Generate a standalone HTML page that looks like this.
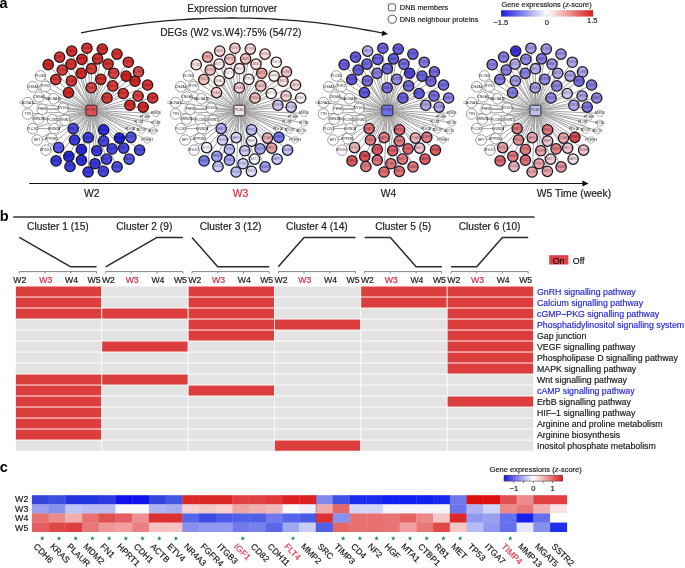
<!DOCTYPE html>
<html><head><meta charset="utf-8"><title>Figure</title>
<style>
html,body{margin:0;padding:0;background:#fff;}
body{width:685px;height:568px;overflow:hidden;}
svg{display:block;font-family:"Liberation Sans", Arial, Helvetica, sans-serif;}
</style></head><body>
<svg width="685" height="568" viewBox="0 0 685 568">

<g id="nets">
<path d="M91.4 110.5L86.9 48.2M91.4 110.5L102.3 49.1M91.4 110.5L71.7 51.1M91.4 110.5L117.0 54.1M91.4 110.5L59.6 57.1M91.4 110.5L81.8 59.3M91.4 110.5L97.6 58.8M91.4 110.5L48.2 64.7M91.4 110.5L71.0 64.1M91.4 110.5L108.0 64.2M91.4 110.5L128.3 62.2M91.4 110.5L62.2 70.0M91.4 110.5L91.5 68.7M91.4 110.5L81.2 73.3M91.4 110.5L113.7 73.2M91.4 110.5L138.5 71.9M91.4 110.5L126.1 76.1M91.4 110.5L55.8 79.5M91.4 110.5L71.4 80.8M91.4 110.5L100.8 79.3M91.4 110.5L135.0 81.2M91.4 110.5L147.6 85.0M91.4 110.5L91.3 87.7M91.4 110.5L112.8 85.9M91.4 110.5L68.5 92.6M91.4 110.5L123.2 93.5M91.4 110.5L138.1 96.0M91.4 110.5L152.7 98.0M91.4 110.5L107.0 98.0M91.4 110.5L129.9 105.2M91.4 110.5L143.2 107.1M91.4 110.5L73.2 128.6M91.4 110.5L103.6 129.8M91.4 110.5L88.2 137.6M91.4 110.5L74.5 140.0M91.4 110.5L103.6 141.1M91.4 110.5L119.5 138.1M91.4 110.5L130.9 137.3M91.4 110.5L58.6 147.6M91.4 110.5L81.4 149.5M91.4 110.5L96.8 150.7M91.4 110.5L112.1 148.9M91.4 110.5L123.7 148.1M91.4 110.5L139.6 150.1M91.4 110.5L68.8 156.4M91.4 110.5L81.4 160.2M91.4 110.5L56.1 160.9M91.4 110.5L95.0 163.7M91.4 110.5L106.6 159.1M91.4 110.5L129.1 159.1M91.4 110.5L117.1 166.9M91.4 110.5L70.0 166.5M91.4 110.5L88.1 172.0M91.4 110.5L103.4 171.3M91.4 110.5L40.4 75.9M91.4 110.5L32.8 86.8M91.4 110.5L45.3 86.5M91.4 110.5L39.0 97.0M91.4 110.5L53.6 98.8M91.4 110.5L27.5 102.6M91.4 110.5L42.2 109.2M91.4 110.5L63.2 108.3M91.4 110.5L27.6 114.0M91.4 110.5L38.4 119.1M91.4 110.5L52.3 119.7M91.4 110.5L65.0 120.3M91.4 110.5L32.7 128.6M91.4 110.5L54.2 128.6M91.4 110.5L37.1 140.0M91.4 110.5L51.7 138.7M91.4 110.5L46.0 150.1M91.4 110.5L155.8 113.4M91.4 110.5L145.0 117.0M91.4 110.5L155.8 123.1M91.4 110.5L139.0 122.0M91.4 110.5L130.2 128.7M91.4 110.5L141.5 130.2M91.4 110.5L153.2 130.8M91.4 110.5L147.1 140.0M42.2 109.2L63.2 108.3M52.3 119.7L65.0 120.3M52.3 119.7L38.4 119.1M53.6 98.8L39.0 97.0M32.8 86.8L45.3 86.5M54.2 128.6L32.7 128.6M51.7 138.7L37.1 140.0M46.0 150.1L51.7 138.7M63.2 108.3L65.0 120.3" stroke="#999" stroke-width="0.9" fill="none"/>
<circle cx="40.4" cy="75.9" r="5.3" fill="#fff" stroke="#808080" stroke-width="0.75"/>
<text x="40.4" y="76.8" font-size="3.3" text-anchor="middle" fill="#222">PLCB4</text>
<circle cx="32.8" cy="86.8" r="5.3" fill="#fff" stroke="#808080" stroke-width="0.75"/>
<text x="32.8" y="87.7" font-size="3.3" text-anchor="middle" fill="#222">CNGA1</text>
<circle cx="45.3" cy="86.5" r="5.3" fill="#fff" stroke="#808080" stroke-width="0.75"/>
<text x="45.3" y="87.4" font-size="3.3" text-anchor="middle" fill="#222">RYR2</text>
<circle cx="39.0" cy="97.0" r="5.3" fill="#fff" stroke="#808080" stroke-width="0.75"/>
<text x="39.0" y="97.9" font-size="3.3" text-anchor="middle" fill="#222">CNGA3</text>
<circle cx="53.6" cy="98.8" r="5.3" fill="#fff" stroke="#808080" stroke-width="0.75"/>
<text x="53.6" y="99.7" font-size="3.3" text-anchor="middle" fill="#222">CACNA1D</text>
<circle cx="27.5" cy="102.6" r="5.3" fill="#fff" stroke="#808080" stroke-width="0.75"/>
<text x="27.5" y="103.5" font-size="3.3" text-anchor="middle" fill="#222">CACNA1C</text>
<circle cx="42.2" cy="109.2" r="5.3" fill="#fff" stroke="#808080" stroke-width="0.75"/>
<text x="42.2" y="110.1" font-size="3.3" text-anchor="middle" fill="#222">PHKB</text>
<circle cx="63.2" cy="108.3" r="5.3" fill="#fff" stroke="#808080" stroke-width="0.75"/>
<text x="63.2" y="109.2" font-size="3.3" text-anchor="middle" fill="#222">MYLK4</text>
<circle cx="27.6" cy="114.0" r="5.3" fill="#fff" stroke="#808080" stroke-width="0.75"/>
<text x="27.6" y="114.9" font-size="3.3" text-anchor="middle" fill="#222">TTN</text>
<circle cx="38.4" cy="119.1" r="5.3" fill="#fff" stroke="#808080" stroke-width="0.75"/>
<text x="38.4" y="120.0" font-size="3.3" text-anchor="middle" fill="#222">GRIN2B</text>
<circle cx="52.3" cy="119.7" r="5.3" fill="#fff" stroke="#808080" stroke-width="0.75"/>
<text x="52.3" y="120.6" font-size="3.3" text-anchor="middle" fill="#222">PLCB1</text>
<circle cx="65.0" cy="120.3" r="5.3" fill="#fff" stroke="#808080" stroke-width="0.75"/>
<text x="65.0" y="121.2" font-size="3.3" text-anchor="middle" fill="#222">GRIN1</text>
<circle cx="32.7" cy="128.6" r="5.3" fill="#fff" stroke="#808080" stroke-width="0.75"/>
<text x="32.7" y="129.5" font-size="3.3" text-anchor="middle" fill="#222">PLCG2</text>
<circle cx="54.2" cy="128.6" r="5.3" fill="#fff" stroke="#808080" stroke-width="0.75"/>
<text x="54.2" y="129.5" font-size="3.3" text-anchor="middle" fill="#222">GRIN2A</text>
<circle cx="37.1" cy="140.0" r="5.3" fill="#fff" stroke="#808080" stroke-width="0.75"/>
<text x="37.1" y="140.9" font-size="3.3" text-anchor="middle" fill="#222">NFT</text>
<circle cx="51.7" cy="138.7" r="5.3" fill="#fff" stroke="#808080" stroke-width="0.75"/>
<text x="51.7" y="139.6" font-size="3.3" text-anchor="middle" fill="#222">PPP3R1</text>
<circle cx="46.0" cy="150.1" r="5.3" fill="#fff" stroke="#808080" stroke-width="0.75"/>
<text x="46.0" y="151.0" font-size="3.3" text-anchor="middle" fill="#222">MYLK2</text>
<circle cx="155.8" cy="113.4" r="3.2" fill="#fff" stroke="#808080" stroke-width="0.6"/>
<text x="155.8" y="114.2" font-size="3.0" text-anchor="middle" fill="#333">PDE1B</text>
<circle cx="145.0" cy="117.0" r="3.2" fill="#fff" stroke="#808080" stroke-width="0.6"/>
<text x="145.0" y="117.8" font-size="3.0" text-anchor="middle" fill="#333">PTGER</text>
<circle cx="155.8" cy="123.1" r="3.2" fill="#fff" stroke="#808080" stroke-width="0.6"/>
<text x="155.8" y="123.9" font-size="3.0" text-anchor="middle" fill="#333">PLCB3</text>
<circle cx="139.0" cy="122.0" r="3.2" fill="#fff" stroke="#808080" stroke-width="0.6"/>
<text x="139.0" y="122.8" font-size="3.0" text-anchor="middle" fill="#333">PLCE1</text>
<circle cx="130.2" cy="128.7" r="3.2" fill="#fff" stroke="#808080" stroke-width="0.6"/>
<text x="130.2" y="129.5" font-size="3.0" text-anchor="middle" fill="#333">PDE1A</text>
<circle cx="141.5" cy="130.2" r="3.2" fill="#fff" stroke="#808080" stroke-width="0.6"/>
<text x="141.5" y="131.0" font-size="3.0" text-anchor="middle" fill="#333">ADCY3</text>
<circle cx="153.2" cy="130.8" r="3.2" fill="#fff" stroke="#808080" stroke-width="0.6"/>
<text x="153.2" y="131.6" font-size="3.0" text-anchor="middle" fill="#333">ADCY9</text>
<circle cx="147.1" cy="140.0" r="3.2" fill="#fff" stroke="#808080" stroke-width="0.6"/>
<text x="147.1" y="140.8" font-size="3.0" text-anchor="middle" fill="#333">PTGER3</text>
<circle cx="86.9" cy="48.2" r="5.2" fill="#d83939" stroke="#2a1818" stroke-width="1.25"/>
<text x="86.9" y="49.1" font-size="3.0" text-anchor="middle" fill="#3a0a0a" fill-opacity="0.55">NOS3</text>
<circle cx="102.3" cy="49.1" r="5.2" fill="#d32f2f" stroke="#2a1818" stroke-width="1.25"/>
<text x="102.3" y="50.0" font-size="3.0" text-anchor="middle" fill="#3a0a0a" fill-opacity="0.55">PTGS</text>
<circle cx="71.7" cy="51.1" r="5.2" fill="#d32f2f" stroke="#2a1818" stroke-width="1.25"/>
<text x="71.7" y="52.0" font-size="3.0" text-anchor="middle" fill="#3a0a0a" fill-opacity="0.55">NBO1</text>
<circle cx="117.0" cy="54.1" r="5.2" fill="#d83333" stroke="#2a1818" stroke-width="1.25"/>
<text x="117.0" y="55.0" font-size="3.0" text-anchor="middle" fill="#3a0a0a" fill-opacity="0.55">NOS2</text>
<circle cx="59.6" cy="57.1" r="5.2" fill="#d83636" stroke="#2a1818" stroke-width="1.25"/>
<text x="59.6" y="58.0" font-size="3.0" text-anchor="middle" fill="#3a0a0a" fill-opacity="0.55">PDE1C</text>
<circle cx="81.8" cy="59.3" r="5.2" fill="#d32828" stroke="#2a1818" stroke-width="1.25"/>
<text x="81.8" y="60.2" font-size="3.0" text-anchor="middle" fill="#3a0a0a" fill-opacity="0.55">PPP3C</text>
<circle cx="97.6" cy="58.8" r="5.2" fill="#d73131" stroke="#2a1818" stroke-width="1.25"/>
<text x="97.6" y="59.7" font-size="3.0" text-anchor="middle" fill="#3a0a0a" fill-opacity="0.55">CAMK2</text>
<circle cx="48.2" cy="64.7" r="5.2" fill="#d32828" stroke="#2a1818" stroke-width="1.25"/>
<text x="48.2" y="65.6" font-size="3.0" text-anchor="middle" fill="#3a0a0a" fill-opacity="0.55">PLCB2</text>
<circle cx="71.0" cy="64.1" r="5.2" fill="#d73333" stroke="#2a1818" stroke-width="1.25"/>
<text x="71.0" y="65.0" font-size="3.0" text-anchor="middle" fill="#3a0a0a" fill-opacity="0.55">ADCY1</text>
<circle cx="108.0" cy="64.2" r="5.2" fill="#d33636" stroke="#2a1818" stroke-width="1.25"/>
<text x="108.0" y="65.1" font-size="3.0" text-anchor="middle" fill="#3a0a0a" fill-opacity="0.55">CAMK4</text>
<circle cx="128.3" cy="62.2" r="5.2" fill="#d83939" stroke="#2a1818" stroke-width="1.25"/>
<text x="128.3" y="63.1" font-size="3.0" text-anchor="middle" fill="#3a0a0a" fill-opacity="0.55">PDE1A</text>
<circle cx="62.2" cy="70.0" r="5.2" fill="#d83e3e" stroke="#2a1818" stroke-width="1.25"/>
<text x="62.2" y="70.9" font-size="3.0" text-anchor="middle" fill="#3a0a0a" fill-opacity="0.55">NOS1</text>
<circle cx="91.5" cy="68.7" r="5.2" fill="#d83d3d" stroke="#2a1818" stroke-width="1.25"/>
<text x="91.5" y="69.6" font-size="3.0" text-anchor="middle" fill="#3a0a0a" fill-opacity="0.55">PRKCA</text>
<circle cx="81.2" cy="73.3" r="5.2" fill="#d32828" stroke="#2a1818" stroke-width="1.25"/>
<text x="81.2" y="74.2" font-size="3.0" text-anchor="middle" fill="#3a0a0a" fill-opacity="0.55">ADCY8</text>
<circle cx="113.7" cy="73.2" r="5.2" fill="#db4444" stroke="#2a1818" stroke-width="1.25"/>
<text x="113.7" y="74.1" font-size="3.0" text-anchor="middle" fill="#3a0a0a" fill-opacity="0.55">ADCY</text>
<circle cx="138.5" cy="71.9" r="5.2" fill="#db5151" stroke="#2a1818" stroke-width="1.25"/>
<text x="138.5" y="72.8" font-size="3.0" text-anchor="middle" fill="#3a0a0a" fill-opacity="0.55">ADRB1</text>
<circle cx="126.1" cy="76.1" r="5.2" fill="#cf2222" stroke="#2a1818" stroke-width="1.25"/>
<text x="126.1" y="77.0" font-size="3.0" text-anchor="middle" fill="#3a0a0a" fill-opacity="0.55">ITPR1</text>
<circle cx="55.8" cy="79.5" r="5.2" fill="#d83939" stroke="#2a1818" stroke-width="1.25"/>
<text x="55.8" y="80.4" font-size="3.0" text-anchor="middle" fill="#3a0a0a" fill-opacity="0.55">PDE2A</text>
<circle cx="71.4" cy="80.8" r="5.2" fill="#d83939" stroke="#2a1818" stroke-width="1.25"/>
<text x="71.4" y="81.7" font-size="3.0" text-anchor="middle" fill="#3a0a0a" fill-opacity="0.55">GNAQ</text>
<circle cx="100.8" cy="79.3" r="5.2" fill="#d32f2f" stroke="#2a1818" stroke-width="1.25"/>
<text x="100.8" y="80.2" font-size="3.0" text-anchor="middle" fill="#3a0a0a" fill-opacity="0.55">ATP2B</text>
<circle cx="135.0" cy="81.2" r="5.2" fill="#cf2828" stroke="#2a1818" stroke-width="1.25"/>
<text x="135.0" y="82.1" font-size="3.0" text-anchor="middle" fill="#3a0a0a" fill-opacity="0.55">PRKCB</text>
<circle cx="147.6" cy="85.0" r="5.2" fill="#d73333" stroke="#2a1818" stroke-width="1.25"/>
<text x="147.6" y="85.9" font-size="3.0" text-anchor="middle" fill="#3a0a0a" fill-opacity="0.55">CALM1</text>
<circle cx="91.3" cy="87.7" r="5.2" fill="#db4a4a" stroke="#2a1818" stroke-width="1.25"/>
<text x="91.3" y="88.6" font-size="3.0" text-anchor="middle" fill="#3a0a0a" fill-opacity="0.55">GNAS</text>
<circle cx="112.8" cy="85.9" r="5.2" fill="#db3d3d" stroke="#2a1818" stroke-width="1.25"/>
<text x="112.8" y="86.8" font-size="3.0" text-anchor="middle" fill="#3a0a0a" fill-opacity="0.55">CALML</text>
<circle cx="68.5" cy="92.6" r="5.2" fill="#d32828" stroke="#2a1818" stroke-width="1.25"/>
<text x="68.5" y="93.5" font-size="3.0" text-anchor="middle" fill="#3a0a0a" fill-opacity="0.55">PDE4D</text>
<circle cx="123.2" cy="93.5" r="5.2" fill="#d73636" stroke="#2a1818" stroke-width="1.25"/>
<text x="123.2" y="94.4" font-size="3.0" text-anchor="middle" fill="#3a0a0a" fill-opacity="0.55">ADCY5</text>
<circle cx="138.1" cy="96.0" r="5.2" fill="#db4444" stroke="#2a1818" stroke-width="1.25"/>
<text x="138.1" y="96.9" font-size="3.0" text-anchor="middle" fill="#3a0a0a" fill-opacity="0.55">CHRM3</text>
<circle cx="152.7" cy="98.0" r="5.2" fill="#d73636" stroke="#2a1818" stroke-width="1.25"/>
<text x="152.7" y="98.9" font-size="3.0" text-anchor="middle" fill="#3a0a0a" fill-opacity="0.55">NFATC</text>
<circle cx="107.0" cy="98.0" r="5.2" fill="#d73939" stroke="#2a1818" stroke-width="1.25"/>
<text x="107.0" y="98.9" font-size="3.0" text-anchor="middle" fill="#3a0a0a" fill-opacity="0.55">PRKG1</text>
<circle cx="129.9" cy="105.2" r="5.2" fill="#d32f2f" stroke="#2a1818" stroke-width="1.25"/>
<text x="129.9" y="106.1" font-size="3.0" text-anchor="middle" fill="#3a0a0a" fill-opacity="0.55">PDE3A</text>
<circle cx="143.2" cy="107.1" r="5.2" fill="#d32828" stroke="#2a1818" stroke-width="1.25"/>
<text x="143.2" y="108.0" font-size="3.0" text-anchor="middle" fill="#3a0a0a" fill-opacity="0.55">SLC8A</text>
<circle cx="73.2" cy="128.6" r="5.2" fill="#4a4ae4" stroke="#18182a" stroke-width="1.25"/>
<text x="73.2" y="129.5" font-size="3.0" text-anchor="middle" fill="#0a0a3a" fill-opacity="0.55">NFATC</text>
<circle cx="103.6" cy="129.8" r="5.2" fill="#3030e0" stroke="#18182a" stroke-width="1.25"/>
<text x="103.6" y="130.7" font-size="3.0" text-anchor="middle" fill="#0a0a3a" fill-opacity="0.55">PPP1CA</text>
<circle cx="88.2" cy="137.6" r="5.2" fill="#4040e0" stroke="#18182a" stroke-width="1.25"/>
<text x="88.2" y="138.5" font-size="3.0" text-anchor="middle" fill="#0a0a3a" fill-opacity="0.55">MAPK1</text>
<circle cx="74.5" cy="140.0" r="5.2" fill="#3a3ae0" stroke="#18182a" stroke-width="1.25"/>
<text x="74.5" y="140.9" font-size="3.0" text-anchor="middle" fill="#0a0a3a" fill-opacity="0.55">PIK3CA</text>
<circle cx="103.6" cy="141.1" r="5.2" fill="#4848e4" stroke="#18182a" stroke-width="1.25"/>
<text x="103.6" y="142.0" font-size="3.0" text-anchor="middle" fill="#0a0a3a" fill-opacity="0.55">RAF1</text>
<circle cx="119.5" cy="138.1" r="5.2" fill="#2020d8" stroke="#18182a" stroke-width="1.25"/>
<text x="119.5" y="139.0" font-size="3.0" text-anchor="middle" fill="#0a0a3a" fill-opacity="0.55">ITGA5</text>
<circle cx="130.9" cy="137.3" r="5.2" fill="#5858e6" stroke="#18182a" stroke-width="1.25"/>
<text x="130.9" y="138.2" font-size="3.0" text-anchor="middle" fill="#0a0a3a" fill-opacity="0.55">EGFR</text>
<circle cx="58.6" cy="147.6" r="5.2" fill="#5a5aee" stroke="#18182a" stroke-width="1.25"/>
<text x="58.6" y="148.5" font-size="3.0" text-anchor="middle" fill="#0a0a3a" fill-opacity="0.55">MYO1C</text>
<circle cx="81.4" cy="149.5" r="5.2" fill="#2a2ad8" stroke="#18182a" stroke-width="1.25"/>
<text x="81.4" y="150.4" font-size="3.0" text-anchor="middle" fill="#0a0a3a" fill-opacity="0.55">SOS1</text>
<circle cx="96.8" cy="150.7" r="5.2" fill="#3a3ae0" stroke="#18182a" stroke-width="1.25"/>
<text x="96.8" y="151.6" font-size="3.0" text-anchor="middle" fill="#0a0a3a" fill-opacity="0.55">PDGFA</text>
<circle cx="112.1" cy="148.9" r="5.2" fill="#4444e2" stroke="#18182a" stroke-width="1.25"/>
<text x="112.1" y="149.8" font-size="3.0" text-anchor="middle" fill="#0a0a3a" fill-opacity="0.55">FGF2</text>
<circle cx="123.7" cy="148.1" r="5.2" fill="#4848e2" stroke="#18182a" stroke-width="1.25"/>
<text x="123.7" y="149.0" font-size="3.0" text-anchor="middle" fill="#0a0a3a" fill-opacity="0.55">PRKCD</text>
<circle cx="139.6" cy="150.1" r="5.2" fill="#5050e4" stroke="#18182a" stroke-width="1.25"/>
<text x="139.6" y="151.0" font-size="3.0" text-anchor="middle" fill="#0a0a3a" fill-opacity="0.55">VEGFA</text>
<circle cx="68.8" cy="156.4" r="5.2" fill="#2a2ad8" stroke="#18182a" stroke-width="1.25"/>
<text x="68.8" y="157.3" font-size="3.0" text-anchor="middle" fill="#0a0a3a" fill-opacity="0.55">HRAS</text>
<circle cx="81.4" cy="160.2" r="5.2" fill="#3030dc" stroke="#18182a" stroke-width="1.25"/>
<text x="81.4" y="161.1" font-size="3.0" text-anchor="middle" fill="#0a0a3a" fill-opacity="0.55">PIK3CB</text>
<circle cx="56.1" cy="160.9" r="5.2" fill="#3a3ae0" stroke="#18182a" stroke-width="1.25"/>
<text x="56.1" y="161.8" font-size="3.0" text-anchor="middle" fill="#0a0a3a" fill-opacity="0.55">FGFR1</text>
<circle cx="95.0" cy="163.7" r="5.2" fill="#3838e0" stroke="#18182a" stroke-width="1.25"/>
<text x="95.0" y="164.6" font-size="3.0" text-anchor="middle" fill="#0a0a3a" fill-opacity="0.55">PTK2</text>
<circle cx="106.6" cy="159.1" r="5.2" fill="#4848e2" stroke="#18182a" stroke-width="1.25"/>
<text x="106.6" y="160.0" font-size="3.0" text-anchor="middle" fill="#0a0a3a" fill-opacity="0.55">AKT1</text>
<circle cx="129.1" cy="159.1" r="5.2" fill="#5858e8" stroke="#18182a" stroke-width="1.25"/>
<text x="129.1" y="160.0" font-size="3.0" text-anchor="middle" fill="#0a0a3a" fill-opacity="0.55">MAPK3</text>
<circle cx="117.1" cy="166.9" r="5.2" fill="#5050e4" stroke="#18182a" stroke-width="1.25"/>
<text x="117.1" y="167.8" font-size="3.0" text-anchor="middle" fill="#0a0a3a" fill-opacity="0.55">NRAS</text>
<circle cx="70.0" cy="166.5" r="5.2" fill="#4040e0" stroke="#18182a" stroke-width="1.25"/>
<text x="70.0" y="167.4" font-size="3.0" text-anchor="middle" fill="#0a0a3a" fill-opacity="0.55">CDC42</text>
<circle cx="88.1" cy="172.0" r="5.2" fill="#3a3ae0" stroke="#18182a" stroke-width="1.25"/>
<text x="88.1" y="172.9" font-size="3.0" text-anchor="middle" fill="#0a0a3a" fill-opacity="0.55">PLCG1</text>
<circle cx="103.4" cy="171.3" r="5.2" fill="#4848e4" stroke="#18182a" stroke-width="1.25"/>
<text x="103.4" y="172.2" font-size="3.0" text-anchor="middle" fill="#0a0a3a" fill-opacity="0.55">SHC1</text>
<rect x="85.9" y="105.2" width="11" height="10.6" rx="1.5" fill="#e05050" stroke="#2a2a2a" stroke-width="1"/>
<text x="91.4" y="111.4" font-size="2.6" text-anchor="middle" fill="#333">PLCB4</text>
<path d="M239.4 110.5L234.9 48.2M239.4 110.5L250.3 49.1M239.4 110.5L219.7 51.1M239.4 110.5L265.0 54.1M239.4 110.5L207.6 57.1M239.4 110.5L229.8 59.3M239.4 110.5L245.6 58.8M239.4 110.5L196.2 64.7M239.4 110.5L219.0 64.1M239.4 110.5L256.0 64.2M239.4 110.5L276.3 62.2M239.4 110.5L210.2 70.0M239.4 110.5L239.5 68.7M239.4 110.5L229.2 73.3M239.4 110.5L261.7 73.2M239.4 110.5L286.5 71.9M239.4 110.5L274.1 76.1M239.4 110.5L203.8 79.5M239.4 110.5L219.4 80.8M239.4 110.5L248.8 79.3M239.4 110.5L283.0 81.2M239.4 110.5L295.6 85.0M239.4 110.5L239.3 87.7M239.4 110.5L260.8 85.9M239.4 110.5L216.5 92.6M239.4 110.5L271.2 93.5M239.4 110.5L286.1 96.0M239.4 110.5L300.7 98.0M239.4 110.5L255.0 98.0M239.4 110.5L277.9 105.2M239.4 110.5L291.2 107.1M239.4 110.5L221.2 128.6M239.4 110.5L251.6 129.8M239.4 110.5L236.2 137.6M239.4 110.5L222.5 140.0M239.4 110.5L251.6 141.1M239.4 110.5L267.5 138.1M239.4 110.5L278.9 137.3M239.4 110.5L206.6 147.6M239.4 110.5L229.4 149.5M239.4 110.5L244.8 150.7M239.4 110.5L260.1 148.9M239.4 110.5L271.7 148.1M239.4 110.5L287.6 150.1M239.4 110.5L216.8 156.4M239.4 110.5L229.4 160.2M239.4 110.5L204.1 160.9M239.4 110.5L243.0 163.7M239.4 110.5L254.6 159.1M239.4 110.5L277.1 159.1M239.4 110.5L265.1 166.9M239.4 110.5L218.0 166.5M239.4 110.5L236.1 172.0M239.4 110.5L251.4 171.3M239.4 110.5L188.4 75.9M239.4 110.5L180.8 86.8M239.4 110.5L193.3 86.5M239.4 110.5L187.0 97.0M239.4 110.5L201.6 98.8M239.4 110.5L175.5 102.6M239.4 110.5L190.2 109.2M239.4 110.5L211.2 108.3M239.4 110.5L175.6 114.0M239.4 110.5L186.4 119.1M239.4 110.5L200.3 119.7M239.4 110.5L213.0 120.3M239.4 110.5L180.7 128.6M239.4 110.5L202.2 128.6M239.4 110.5L185.1 140.0M239.4 110.5L199.7 138.7M239.4 110.5L194.0 150.1M239.4 110.5L303.8 113.4M239.4 110.5L293.0 117.0M239.4 110.5L303.8 123.1M239.4 110.5L287.0 122.0M239.4 110.5L278.2 128.7M239.4 110.5L289.5 130.2M239.4 110.5L301.2 130.8M239.4 110.5L295.1 140.0M190.2 109.2L211.2 108.3M200.3 119.7L213.0 120.3M200.3 119.7L186.4 119.1M201.6 98.8L187.0 97.0M180.8 86.8L193.3 86.5M202.2 128.6L180.7 128.6M199.7 138.7L185.1 140.0M194.0 150.1L199.7 138.7M211.2 108.3L213.0 120.3" stroke="#999" stroke-width="0.9" fill="none"/>
<circle cx="188.4" cy="75.9" r="5.3" fill="#fff" stroke="#808080" stroke-width="0.75"/>
<text x="188.4" y="76.8" font-size="3.3" text-anchor="middle" fill="#222">PLCB4</text>
<circle cx="180.8" cy="86.8" r="5.3" fill="#fff" stroke="#808080" stroke-width="0.75"/>
<text x="180.8" y="87.7" font-size="3.3" text-anchor="middle" fill="#222">CNGA1</text>
<circle cx="193.3" cy="86.5" r="5.3" fill="#fff" stroke="#808080" stroke-width="0.75"/>
<text x="193.3" y="87.4" font-size="3.3" text-anchor="middle" fill="#222">RYR2</text>
<circle cx="187.0" cy="97.0" r="5.3" fill="#fff" stroke="#808080" stroke-width="0.75"/>
<text x="187.0" y="97.9" font-size="3.3" text-anchor="middle" fill="#222">CNGA3</text>
<circle cx="201.6" cy="98.8" r="5.3" fill="#fff" stroke="#808080" stroke-width="0.75"/>
<text x="201.6" y="99.7" font-size="3.3" text-anchor="middle" fill="#222">CACNA1D</text>
<circle cx="175.5" cy="102.6" r="5.3" fill="#fff" stroke="#808080" stroke-width="0.75"/>
<text x="175.5" y="103.5" font-size="3.3" text-anchor="middle" fill="#222">CACNA1C</text>
<circle cx="190.2" cy="109.2" r="5.3" fill="#fff" stroke="#808080" stroke-width="0.75"/>
<text x="190.2" y="110.1" font-size="3.3" text-anchor="middle" fill="#222">PHKB</text>
<circle cx="211.2" cy="108.3" r="5.3" fill="#fff" stroke="#808080" stroke-width="0.75"/>
<text x="211.2" y="109.2" font-size="3.3" text-anchor="middle" fill="#222">MYLK4</text>
<circle cx="175.6" cy="114.0" r="5.3" fill="#fff" stroke="#808080" stroke-width="0.75"/>
<text x="175.6" y="114.9" font-size="3.3" text-anchor="middle" fill="#222">TTN</text>
<circle cx="186.4" cy="119.1" r="5.3" fill="#fff" stroke="#808080" stroke-width="0.75"/>
<text x="186.4" y="120.0" font-size="3.3" text-anchor="middle" fill="#222">GRIN2B</text>
<circle cx="200.3" cy="119.7" r="5.3" fill="#fff" stroke="#808080" stroke-width="0.75"/>
<text x="200.3" y="120.6" font-size="3.3" text-anchor="middle" fill="#222">PLCB1</text>
<circle cx="213.0" cy="120.3" r="5.3" fill="#fff" stroke="#808080" stroke-width="0.75"/>
<text x="213.0" y="121.2" font-size="3.3" text-anchor="middle" fill="#222">GRIN1</text>
<circle cx="180.7" cy="128.6" r="5.3" fill="#fff" stroke="#808080" stroke-width="0.75"/>
<text x="180.7" y="129.5" font-size="3.3" text-anchor="middle" fill="#222">PLCG2</text>
<circle cx="202.2" cy="128.6" r="5.3" fill="#fff" stroke="#808080" stroke-width="0.75"/>
<text x="202.2" y="129.5" font-size="3.3" text-anchor="middle" fill="#222">GRIN2A</text>
<circle cx="185.1" cy="140.0" r="5.3" fill="#fff" stroke="#808080" stroke-width="0.75"/>
<text x="185.1" y="140.9" font-size="3.3" text-anchor="middle" fill="#222">NFT</text>
<circle cx="199.7" cy="138.7" r="5.3" fill="#fff" stroke="#808080" stroke-width="0.75"/>
<text x="199.7" y="139.6" font-size="3.3" text-anchor="middle" fill="#222">PPP3R1</text>
<circle cx="194.0" cy="150.1" r="5.3" fill="#fff" stroke="#808080" stroke-width="0.75"/>
<text x="194.0" y="151.0" font-size="3.3" text-anchor="middle" fill="#222">MYLK2</text>
<circle cx="303.8" cy="113.4" r="3.2" fill="#fff" stroke="#808080" stroke-width="0.6"/>
<text x="303.8" y="114.2" font-size="3.0" text-anchor="middle" fill="#333">PDE1B</text>
<circle cx="293.0" cy="117.0" r="3.2" fill="#fff" stroke="#808080" stroke-width="0.6"/>
<text x="293.0" y="117.8" font-size="3.0" text-anchor="middle" fill="#333">PTGER</text>
<circle cx="303.8" cy="123.1" r="3.2" fill="#fff" stroke="#808080" stroke-width="0.6"/>
<text x="303.8" y="123.9" font-size="3.0" text-anchor="middle" fill="#333">PLCB3</text>
<circle cx="287.0" cy="122.0" r="3.2" fill="#fff" stroke="#808080" stroke-width="0.6"/>
<text x="287.0" y="122.8" font-size="3.0" text-anchor="middle" fill="#333">PLCE1</text>
<circle cx="278.2" cy="128.7" r="3.2" fill="#fff" stroke="#808080" stroke-width="0.6"/>
<text x="278.2" y="129.5" font-size="3.0" text-anchor="middle" fill="#333">PDE1A</text>
<circle cx="289.5" cy="130.2" r="3.2" fill="#fff" stroke="#808080" stroke-width="0.6"/>
<text x="289.5" y="131.0" font-size="3.0" text-anchor="middle" fill="#333">ADCY3</text>
<circle cx="301.2" cy="130.8" r="3.2" fill="#fff" stroke="#808080" stroke-width="0.6"/>
<text x="301.2" y="131.6" font-size="3.0" text-anchor="middle" fill="#333">ADCY9</text>
<circle cx="295.1" cy="140.0" r="3.2" fill="#fff" stroke="#808080" stroke-width="0.6"/>
<text x="295.1" y="140.8" font-size="3.0" text-anchor="middle" fill="#333">PTGER3</text>
<circle cx="234.9" cy="48.2" r="5.2" fill="#f2d6d6" stroke="#2a1818" stroke-width="1.25"/>
<text x="234.9" y="49.1" font-size="3.0" text-anchor="middle" fill="#3a0a0a" fill-opacity="0.55">NOS3</text>
<circle cx="250.3" cy="49.1" r="5.2" fill="#f2d8d8" stroke="#2a1818" stroke-width="1.25"/>
<text x="250.3" y="50.0" font-size="3.0" text-anchor="middle" fill="#3a0a0a" fill-opacity="0.55">PTGS</text>
<circle cx="219.7" cy="51.1" r="5.2" fill="#f2d4d4" stroke="#2a1818" stroke-width="1.25"/>
<text x="219.7" y="52.0" font-size="3.0" text-anchor="middle" fill="#3a0a0a" fill-opacity="0.55">NBO1</text>
<circle cx="265.0" cy="54.1" r="5.2" fill="#f4dcdc" stroke="#2a1818" stroke-width="1.25"/>
<text x="265.0" y="55.0" font-size="3.0" text-anchor="middle" fill="#3a0a0a" fill-opacity="0.55">NOS2</text>
<circle cx="207.6" cy="57.1" r="5.2" fill="#e8a8a8" stroke="#2a1818" stroke-width="1.25"/>
<text x="207.6" y="58.0" font-size="3.0" text-anchor="middle" fill="#3a0a0a" fill-opacity="0.55">PDE1C</text>
<circle cx="229.8" cy="59.3" r="5.2" fill="#eec4c4" stroke="#2a1818" stroke-width="1.25"/>
<text x="229.8" y="60.2" font-size="3.0" text-anchor="middle" fill="#3a0a0a" fill-opacity="0.55">PPP3C</text>
<circle cx="245.6" cy="58.8" r="5.2" fill="#eec0c0" stroke="#2a1818" stroke-width="1.25"/>
<text x="245.6" y="59.7" font-size="3.0" text-anchor="middle" fill="#3a0a0a" fill-opacity="0.55">CAMK2</text>
<circle cx="196.2" cy="64.7" r="5.2" fill="#f6e6e6" stroke="#2a1818" stroke-width="1.25"/>
<text x="196.2" y="65.6" font-size="3.0" text-anchor="middle" fill="#3a0a0a" fill-opacity="0.55">PLCB2</text>
<circle cx="219.0" cy="64.1" r="5.2" fill="#f8f0f0" stroke="#2a1818" stroke-width="1.25"/>
<text x="219.0" y="65.0" font-size="3.0" text-anchor="middle" fill="#3a0a0a" fill-opacity="0.55">ADCY1</text>
<circle cx="256.0" cy="64.2" r="5.2" fill="#f4e0e0" stroke="#2a1818" stroke-width="1.25"/>
<text x="256.0" y="65.1" font-size="3.0" text-anchor="middle" fill="#3a0a0a" fill-opacity="0.55">CAMK4</text>
<circle cx="276.3" cy="62.2" r="5.2" fill="#fafafa" stroke="#2a1818" stroke-width="1.25"/>
<text x="276.3" y="63.1" font-size="3.0" text-anchor="middle" fill="#3a0a0a" fill-opacity="0.55">PDE1A</text>
<circle cx="210.2" cy="70.0" r="5.2" fill="#eec2c2" stroke="#2a1818" stroke-width="1.25"/>
<text x="210.2" y="70.9" font-size="3.0" text-anchor="middle" fill="#3a0a0a" fill-opacity="0.55">NOS1</text>
<circle cx="239.5" cy="68.7" r="5.2" fill="#f8f0f0" stroke="#2a1818" stroke-width="1.25"/>
<text x="239.5" y="69.6" font-size="3.0" text-anchor="middle" fill="#3a0a0a" fill-opacity="0.55">PRKCA</text>
<circle cx="229.2" cy="73.3" r="5.2" fill="#fcfcfc" stroke="#2a1818" stroke-width="1.25"/>
<text x="229.2" y="74.2" font-size="3.0" text-anchor="middle" fill="#3a0a0a" fill-opacity="0.55">ADCY8</text>
<circle cx="261.7" cy="73.2" r="5.2" fill="#e8a4a4" stroke="#2a1818" stroke-width="1.25"/>
<text x="261.7" y="74.1" font-size="3.0" text-anchor="middle" fill="#3a0a0a" fill-opacity="0.55">ADCY</text>
<circle cx="286.5" cy="71.9" r="5.2" fill="#eec6c6" stroke="#2a1818" stroke-width="1.25"/>
<text x="286.5" y="72.8" font-size="3.0" text-anchor="middle" fill="#3a0a0a" fill-opacity="0.55">ADRB1</text>
<circle cx="274.1" cy="76.1" r="5.2" fill="#f8f4f4" stroke="#2a1818" stroke-width="1.25"/>
<text x="274.1" y="77.0" font-size="3.0" text-anchor="middle" fill="#3a0a0a" fill-opacity="0.55">ITPR1</text>
<circle cx="203.8" cy="79.5" r="5.2" fill="#eec0c0" stroke="#2a1818" stroke-width="1.25"/>
<text x="203.8" y="80.4" font-size="3.0" text-anchor="middle" fill="#3a0a0a" fill-opacity="0.55">PDE2A</text>
<circle cx="219.4" cy="80.8" r="5.2" fill="#f8f0f0" stroke="#2a1818" stroke-width="1.25"/>
<text x="219.4" y="81.7" font-size="3.0" text-anchor="middle" fill="#3a0a0a" fill-opacity="0.55">GNAQ</text>
<circle cx="248.8" cy="79.3" r="5.2" fill="#fcfcfc" stroke="#2a1818" stroke-width="1.25"/>
<text x="248.8" y="80.2" font-size="3.0" text-anchor="middle" fill="#3a0a0a" fill-opacity="0.55">ATP2B</text>
<circle cx="283.0" cy="81.2" r="5.2" fill="#f4dede" stroke="#2a1818" stroke-width="1.25"/>
<text x="283.0" y="82.1" font-size="3.0" text-anchor="middle" fill="#3a0a0a" fill-opacity="0.55">PRKCB</text>
<circle cx="295.6" cy="85.0" r="5.2" fill="#f2d8d8" stroke="#2a1818" stroke-width="1.25"/>
<text x="295.6" y="85.9" font-size="3.0" text-anchor="middle" fill="#3a0a0a" fill-opacity="0.55">CALM1</text>
<circle cx="239.3" cy="87.7" r="5.2" fill="#f0d0d0" stroke="#2a1818" stroke-width="1.25"/>
<text x="239.3" y="88.6" font-size="3.0" text-anchor="middle" fill="#3a0a0a" fill-opacity="0.55">GNAS</text>
<circle cx="260.8" cy="85.9" r="5.2" fill="#eec6c6" stroke="#2a1818" stroke-width="1.25"/>
<text x="260.8" y="86.8" font-size="3.0" text-anchor="middle" fill="#3a0a0a" fill-opacity="0.55">CALML</text>
<circle cx="216.5" cy="92.6" r="5.2" fill="#f0d0d0" stroke="#2a1818" stroke-width="1.25"/>
<text x="216.5" y="93.5" font-size="3.0" text-anchor="middle" fill="#3a0a0a" fill-opacity="0.55">PDE4D</text>
<circle cx="271.2" cy="93.5" r="5.2" fill="#fafafa" stroke="#2a1818" stroke-width="1.25"/>
<text x="271.2" y="94.4" font-size="3.0" text-anchor="middle" fill="#3a0a0a" fill-opacity="0.55">ADCY5</text>
<circle cx="286.1" cy="96.0" r="5.2" fill="#f2d8d8" stroke="#2a1818" stroke-width="1.25"/>
<text x="286.1" y="96.9" font-size="3.0" text-anchor="middle" fill="#3a0a0a" fill-opacity="0.55">CHRM3</text>
<circle cx="300.7" cy="98.0" r="5.2" fill="#fafafa" stroke="#2a1818" stroke-width="1.25"/>
<text x="300.7" y="98.9" font-size="3.0" text-anchor="middle" fill="#3a0a0a" fill-opacity="0.55">NFATC</text>
<circle cx="255.0" cy="98.0" r="5.2" fill="#ecbcbc" stroke="#2a1818" stroke-width="1.25"/>
<text x="255.0" y="98.9" font-size="3.0" text-anchor="middle" fill="#3a0a0a" fill-opacity="0.55">PRKG1</text>
<circle cx="277.9" cy="105.2" r="5.2" fill="#c8c8f4" stroke="#2a1818" stroke-width="1.25"/>
<text x="277.9" y="106.1" font-size="3.0" text-anchor="middle" fill="#3a0a0a" fill-opacity="0.55">PDE3A</text>
<circle cx="291.2" cy="107.1" r="5.2" fill="#c8c8f4" stroke="#2a1818" stroke-width="1.25"/>
<text x="291.2" y="108.0" font-size="3.0" text-anchor="middle" fill="#3a0a0a" fill-opacity="0.55">SLC8A</text>
<circle cx="221.2" cy="128.6" r="5.2" fill="#b0b0f0" stroke="#18182a" stroke-width="1.25"/>
<text x="221.2" y="129.5" font-size="3.0" text-anchor="middle" fill="#0a0a3a" fill-opacity="0.55">NFATC</text>
<circle cx="251.6" cy="129.8" r="5.2" fill="#c0c0f2" stroke="#18182a" stroke-width="1.25"/>
<text x="251.6" y="130.7" font-size="3.0" text-anchor="middle" fill="#0a0a3a" fill-opacity="0.55">PPP1CA</text>
<circle cx="236.2" cy="137.6" r="5.2" fill="#d8d8f6" stroke="#18182a" stroke-width="1.25"/>
<text x="236.2" y="138.5" font-size="3.0" text-anchor="middle" fill="#0a0a3a" fill-opacity="0.55">MAPK1</text>
<circle cx="222.5" cy="140.0" r="5.2" fill="#d0d0f4" stroke="#18182a" stroke-width="1.25"/>
<text x="222.5" y="140.9" font-size="3.0" text-anchor="middle" fill="#0a0a3a" fill-opacity="0.55">PIK3CA</text>
<circle cx="251.6" cy="141.1" r="5.2" fill="#f4f4f4" stroke="#18182a" stroke-width="1.25"/>
<text x="251.6" y="142.0" font-size="3.0" text-anchor="middle" fill="#0a0a3a" fill-opacity="0.55">RAF1</text>
<circle cx="267.5" cy="138.1" r="5.2" fill="#eab0b0" stroke="#18182a" stroke-width="1.25"/>
<text x="267.5" y="139.0" font-size="3.0" text-anchor="middle" fill="#0a0a3a" fill-opacity="0.55">ITGA5</text>
<circle cx="278.9" cy="137.3" r="5.2" fill="#7878e8" stroke="#18182a" stroke-width="1.25"/>
<text x="278.9" y="138.2" font-size="3.0" text-anchor="middle" fill="#0a0a3a" fill-opacity="0.55">EGFR</text>
<circle cx="206.6" cy="147.6" r="5.2" fill="#f6f6f8" stroke="#18182a" stroke-width="1.25"/>
<text x="206.6" y="148.5" font-size="3.0" text-anchor="middle" fill="#0a0a3a" fill-opacity="0.55">MYO1C</text>
<circle cx="229.4" cy="149.5" r="5.2" fill="#c0c0f2" stroke="#18182a" stroke-width="1.25"/>
<text x="229.4" y="150.4" font-size="3.0" text-anchor="middle" fill="#0a0a3a" fill-opacity="0.55">SOS1</text>
<circle cx="244.8" cy="150.7" r="5.2" fill="#d0d0f4" stroke="#18182a" stroke-width="1.25"/>
<text x="244.8" y="151.6" font-size="3.0" text-anchor="middle" fill="#0a0a3a" fill-opacity="0.55">PDGFA</text>
<circle cx="260.1" cy="148.9" r="5.2" fill="#a8a8ee" stroke="#18182a" stroke-width="1.25"/>
<text x="260.1" y="149.8" font-size="3.0" text-anchor="middle" fill="#0a0a3a" fill-opacity="0.55">FGF2</text>
<circle cx="271.7" cy="148.1" r="5.2" fill="#e8a0a0" stroke="#18182a" stroke-width="1.25"/>
<text x="271.7" y="149.0" font-size="3.0" text-anchor="middle" fill="#0a0a3a" fill-opacity="0.55">PRKCD</text>
<circle cx="287.6" cy="150.1" r="5.2" fill="#c0c0f2" stroke="#18182a" stroke-width="1.25"/>
<text x="287.6" y="151.0" font-size="3.0" text-anchor="middle" fill="#0a0a3a" fill-opacity="0.55">VEGFA</text>
<circle cx="216.8" cy="156.4" r="5.2" fill="#a0a0ee" stroke="#18182a" stroke-width="1.25"/>
<text x="216.8" y="157.3" font-size="3.0" text-anchor="middle" fill="#0a0a3a" fill-opacity="0.55">HRAS</text>
<circle cx="229.4" cy="160.2" r="5.2" fill="#a8a8ee" stroke="#18182a" stroke-width="1.25"/>
<text x="229.4" y="161.1" font-size="3.0" text-anchor="middle" fill="#0a0a3a" fill-opacity="0.55">PIK3CB</text>
<circle cx="204.1" cy="160.9" r="5.2" fill="#8080ea" stroke="#18182a" stroke-width="1.25"/>
<text x="204.1" y="161.8" font-size="3.0" text-anchor="middle" fill="#0a0a3a" fill-opacity="0.55">FGFR1</text>
<circle cx="243.0" cy="163.7" r="5.2" fill="#d0d0f4" stroke="#18182a" stroke-width="1.25"/>
<text x="243.0" y="164.6" font-size="3.0" text-anchor="middle" fill="#0a0a3a" fill-opacity="0.55">PTK2</text>
<circle cx="254.6" cy="159.1" r="5.2" fill="#f6f6f6" stroke="#18182a" stroke-width="1.25"/>
<text x="254.6" y="160.0" font-size="3.0" text-anchor="middle" fill="#0a0a3a" fill-opacity="0.55">AKT1</text>
<circle cx="277.1" cy="159.1" r="5.2" fill="#c8c8f4" stroke="#18182a" stroke-width="1.25"/>
<text x="277.1" y="160.0" font-size="3.0" text-anchor="middle" fill="#0a0a3a" fill-opacity="0.55">MAPK3</text>
<circle cx="265.1" cy="166.9" r="5.2" fill="#a0a0ee" stroke="#18182a" stroke-width="1.25"/>
<text x="265.1" y="167.8" font-size="3.0" text-anchor="middle" fill="#0a0a3a" fill-opacity="0.55">NRAS</text>
<circle cx="218.0" cy="166.5" r="5.2" fill="#c8c8f2" stroke="#18182a" stroke-width="1.25"/>
<text x="218.0" y="167.4" font-size="3.0" text-anchor="middle" fill="#0a0a3a" fill-opacity="0.55">CDC42</text>
<circle cx="236.1" cy="172.0" r="5.2" fill="#c0c0f2" stroke="#18182a" stroke-width="1.25"/>
<text x="236.1" y="172.9" font-size="3.0" text-anchor="middle" fill="#0a0a3a" fill-opacity="0.55">PLCG1</text>
<circle cx="251.4" cy="171.3" r="5.2" fill="#e0e0f6" stroke="#18182a" stroke-width="1.25"/>
<text x="251.4" y="172.2" font-size="3.0" text-anchor="middle" fill="#0a0a3a" fill-opacity="0.55">SHC1</text>
<rect x="233.9" y="105.2" width="11" height="10.6" rx="1.5" fill="#f6e4e4" stroke="#2a2a2a" stroke-width="1"/>
<text x="239.4" y="111.4" font-size="2.6" text-anchor="middle" fill="#333">PLCB4</text>
<path d="M387.3 110.5L382.8 48.2M387.3 110.5L398.2 49.1M387.3 110.5L367.6 51.1M387.3 110.5L412.9 54.1M387.3 110.5L355.5 57.1M387.3 110.5L377.7 59.3M387.3 110.5L393.5 58.8M387.3 110.5L344.1 64.7M387.3 110.5L366.9 64.1M387.3 110.5L403.9 64.2M387.3 110.5L424.2 62.2M387.3 110.5L358.1 70.0M387.3 110.5L387.4 68.7M387.3 110.5L377.1 73.3M387.3 110.5L409.6 73.2M387.3 110.5L434.4 71.9M387.3 110.5L422.0 76.1M387.3 110.5L351.7 79.5M387.3 110.5L367.3 80.8M387.3 110.5L396.7 79.3M387.3 110.5L430.9 81.2M387.3 110.5L443.5 85.0M387.3 110.5L387.2 87.7M387.3 110.5L408.7 85.9M387.3 110.5L364.4 92.6M387.3 110.5L419.1 93.5M387.3 110.5L434.0 96.0M387.3 110.5L448.6 98.0M387.3 110.5L402.9 98.0M387.3 110.5L425.8 105.2M387.3 110.5L439.1 107.1M387.3 110.5L369.1 128.6M387.3 110.5L399.5 129.8M387.3 110.5L384.1 137.6M387.3 110.5L370.4 140.0M387.3 110.5L399.5 141.1M387.3 110.5L415.4 138.1M387.3 110.5L426.8 137.3M387.3 110.5L354.5 147.6M387.3 110.5L377.3 149.5M387.3 110.5L392.7 150.7M387.3 110.5L408.0 148.9M387.3 110.5L419.6 148.1M387.3 110.5L435.5 150.1M387.3 110.5L364.7 156.4M387.3 110.5L377.3 160.2M387.3 110.5L352.0 160.9M387.3 110.5L390.9 163.7M387.3 110.5L402.5 159.1M387.3 110.5L425.0 159.1M387.3 110.5L413.0 166.9M387.3 110.5L365.9 166.5M387.3 110.5L384.0 172.0M387.3 110.5L399.3 171.3M387.3 110.5L336.3 75.9M387.3 110.5L328.7 86.8M387.3 110.5L341.2 86.5M387.3 110.5L334.9 97.0M387.3 110.5L349.5 98.8M387.3 110.5L323.4 102.6M387.3 110.5L338.1 109.2M387.3 110.5L359.1 108.3M387.3 110.5L323.5 114.0M387.3 110.5L334.3 119.1M387.3 110.5L348.2 119.7M387.3 110.5L360.9 120.3M387.3 110.5L328.6 128.6M387.3 110.5L350.1 128.6M387.3 110.5L333.0 140.0M387.3 110.5L347.6 138.7M387.3 110.5L341.9 150.1M387.3 110.5L451.7 113.4M387.3 110.5L440.9 117.0M387.3 110.5L451.7 123.1M387.3 110.5L434.9 122.0M387.3 110.5L426.1 128.7M387.3 110.5L437.4 130.2M387.3 110.5L449.1 130.8M387.3 110.5L443.0 140.0M338.1 109.2L359.1 108.3M348.2 119.7L360.9 120.3M348.2 119.7L334.3 119.1M349.5 98.8L334.9 97.0M328.7 86.8L341.2 86.5M350.1 128.6L328.6 128.6M347.6 138.7L333.0 140.0M341.9 150.1L347.6 138.7M359.1 108.3L360.9 120.3" stroke="#999" stroke-width="0.9" fill="none"/>
<circle cx="336.3" cy="75.9" r="5.3" fill="#fff" stroke="#808080" stroke-width="0.75"/>
<text x="336.3" y="76.8" font-size="3.3" text-anchor="middle" fill="#222">PLCB4</text>
<circle cx="328.7" cy="86.8" r="5.3" fill="#fff" stroke="#808080" stroke-width="0.75"/>
<text x="328.7" y="87.7" font-size="3.3" text-anchor="middle" fill="#222">CNGA1</text>
<circle cx="341.2" cy="86.5" r="5.3" fill="#fff" stroke="#808080" stroke-width="0.75"/>
<text x="341.2" y="87.4" font-size="3.3" text-anchor="middle" fill="#222">RYR2</text>
<circle cx="334.9" cy="97.0" r="5.3" fill="#fff" stroke="#808080" stroke-width="0.75"/>
<text x="334.9" y="97.9" font-size="3.3" text-anchor="middle" fill="#222">CNGA3</text>
<circle cx="349.5" cy="98.8" r="5.3" fill="#fff" stroke="#808080" stroke-width="0.75"/>
<text x="349.5" y="99.7" font-size="3.3" text-anchor="middle" fill="#222">CACNA1D</text>
<circle cx="323.4" cy="102.6" r="5.3" fill="#fff" stroke="#808080" stroke-width="0.75"/>
<text x="323.4" y="103.5" font-size="3.3" text-anchor="middle" fill="#222">CACNA1C</text>
<circle cx="338.1" cy="109.2" r="5.3" fill="#fff" stroke="#808080" stroke-width="0.75"/>
<text x="338.1" y="110.1" font-size="3.3" text-anchor="middle" fill="#222">PHKB</text>
<circle cx="359.1" cy="108.3" r="5.3" fill="#fff" stroke="#808080" stroke-width="0.75"/>
<text x="359.1" y="109.2" font-size="3.3" text-anchor="middle" fill="#222">MYLK4</text>
<circle cx="323.5" cy="114.0" r="5.3" fill="#fff" stroke="#808080" stroke-width="0.75"/>
<text x="323.5" y="114.9" font-size="3.3" text-anchor="middle" fill="#222">TTN</text>
<circle cx="334.3" cy="119.1" r="5.3" fill="#fff" stroke="#808080" stroke-width="0.75"/>
<text x="334.3" y="120.0" font-size="3.3" text-anchor="middle" fill="#222">GRIN2B</text>
<circle cx="348.2" cy="119.7" r="5.3" fill="#fff" stroke="#808080" stroke-width="0.75"/>
<text x="348.2" y="120.6" font-size="3.3" text-anchor="middle" fill="#222">PLCB1</text>
<circle cx="360.9" cy="120.3" r="5.3" fill="#fff" stroke="#808080" stroke-width="0.75"/>
<text x="360.9" y="121.2" font-size="3.3" text-anchor="middle" fill="#222">GRIN1</text>
<circle cx="328.6" cy="128.6" r="5.3" fill="#fff" stroke="#808080" stroke-width="0.75"/>
<text x="328.6" y="129.5" font-size="3.3" text-anchor="middle" fill="#222">PLCG2</text>
<circle cx="350.1" cy="128.6" r="5.3" fill="#fff" stroke="#808080" stroke-width="0.75"/>
<text x="350.1" y="129.5" font-size="3.3" text-anchor="middle" fill="#222">GRIN2A</text>
<circle cx="333.0" cy="140.0" r="5.3" fill="#fff" stroke="#808080" stroke-width="0.75"/>
<text x="333.0" y="140.9" font-size="3.3" text-anchor="middle" fill="#222">NFT</text>
<circle cx="347.6" cy="138.7" r="5.3" fill="#fff" stroke="#808080" stroke-width="0.75"/>
<text x="347.6" y="139.6" font-size="3.3" text-anchor="middle" fill="#222">PPP3R1</text>
<circle cx="341.9" cy="150.1" r="5.3" fill="#fff" stroke="#808080" stroke-width="0.75"/>
<text x="341.9" y="151.0" font-size="3.3" text-anchor="middle" fill="#222">MYLK2</text>
<circle cx="451.7" cy="113.4" r="3.2" fill="#fff" stroke="#808080" stroke-width="0.6"/>
<text x="451.7" y="114.2" font-size="3.0" text-anchor="middle" fill="#333">PDE1B</text>
<circle cx="440.9" cy="117.0" r="3.2" fill="#fff" stroke="#808080" stroke-width="0.6"/>
<text x="440.9" y="117.8" font-size="3.0" text-anchor="middle" fill="#333">PTGER</text>
<circle cx="451.7" cy="123.1" r="3.2" fill="#fff" stroke="#808080" stroke-width="0.6"/>
<text x="451.7" y="123.9" font-size="3.0" text-anchor="middle" fill="#333">PLCB3</text>
<circle cx="434.9" cy="122.0" r="3.2" fill="#fff" stroke="#808080" stroke-width="0.6"/>
<text x="434.9" y="122.8" font-size="3.0" text-anchor="middle" fill="#333">PLCE1</text>
<circle cx="426.1" cy="128.7" r="3.2" fill="#fff" stroke="#808080" stroke-width="0.6"/>
<text x="426.1" y="129.5" font-size="3.0" text-anchor="middle" fill="#333">PDE1A</text>
<circle cx="437.4" cy="130.2" r="3.2" fill="#fff" stroke="#808080" stroke-width="0.6"/>
<text x="437.4" y="131.0" font-size="3.0" text-anchor="middle" fill="#333">ADCY3</text>
<circle cx="449.1" cy="130.8" r="3.2" fill="#fff" stroke="#808080" stroke-width="0.6"/>
<text x="449.1" y="131.6" font-size="3.0" text-anchor="middle" fill="#333">ADCY9</text>
<circle cx="443.0" cy="140.0" r="3.2" fill="#fff" stroke="#808080" stroke-width="0.6"/>
<text x="443.0" y="140.8" font-size="3.0" text-anchor="middle" fill="#333">PTGER3</text>
<circle cx="382.8" cy="48.2" r="5.2" fill="#6868e6" stroke="#2a1818" stroke-width="1.25"/>
<text x="382.8" y="49.1" font-size="3.0" text-anchor="middle" fill="#3a0a0a" fill-opacity="0.55">NOS3</text>
<circle cx="398.2" cy="49.1" r="5.2" fill="#6060e4" stroke="#2a1818" stroke-width="1.25"/>
<text x="398.2" y="50.0" font-size="3.0" text-anchor="middle" fill="#3a0a0a" fill-opacity="0.55">PTGS</text>
<circle cx="367.6" cy="51.1" r="5.2" fill="#b4b4f0" stroke="#2a1818" stroke-width="1.25"/>
<text x="367.6" y="52.0" font-size="3.0" text-anchor="middle" fill="#3a0a0a" fill-opacity="0.55">NBO1</text>
<circle cx="412.9" cy="54.1" r="5.2" fill="#6464e6" stroke="#2a1818" stroke-width="1.25"/>
<text x="412.9" y="55.0" font-size="3.0" text-anchor="middle" fill="#3a0a0a" fill-opacity="0.55">NOS2</text>
<circle cx="355.5" cy="57.1" r="5.2" fill="#6060e4" stroke="#2a1818" stroke-width="1.25"/>
<text x="355.5" y="58.0" font-size="3.0" text-anchor="middle" fill="#3a0a0a" fill-opacity="0.55">PDE1C</text>
<circle cx="377.7" cy="59.3" r="5.2" fill="#6464e6" stroke="#2a1818" stroke-width="1.25"/>
<text x="377.7" y="60.2" font-size="3.0" text-anchor="middle" fill="#3a0a0a" fill-opacity="0.55">PPP3C</text>
<circle cx="393.5" cy="58.8" r="5.2" fill="#6060e4" stroke="#2a1818" stroke-width="1.25"/>
<text x="393.5" y="59.7" font-size="3.0" text-anchor="middle" fill="#3a0a0a" fill-opacity="0.55">CAMK2</text>
<circle cx="344.1" cy="64.7" r="5.2" fill="#6060e4" stroke="#2a1818" stroke-width="1.25"/>
<text x="344.1" y="65.6" font-size="3.0" text-anchor="middle" fill="#3a0a0a" fill-opacity="0.55">PLCB2</text>
<circle cx="366.9" cy="64.1" r="5.2" fill="#6c6ce6" stroke="#2a1818" stroke-width="1.25"/>
<text x="366.9" y="65.0" font-size="3.0" text-anchor="middle" fill="#3a0a0a" fill-opacity="0.55">ADCY1</text>
<circle cx="403.9" cy="64.2" r="5.2" fill="#7070e8" stroke="#2a1818" stroke-width="1.25"/>
<text x="403.9" y="65.1" font-size="3.0" text-anchor="middle" fill="#3a0a0a" fill-opacity="0.55">CAMK4</text>
<circle cx="424.2" cy="62.2" r="5.2" fill="#7c7ce8" stroke="#2a1818" stroke-width="1.25"/>
<text x="424.2" y="63.1" font-size="3.0" text-anchor="middle" fill="#3a0a0a" fill-opacity="0.55">PDE1A</text>
<circle cx="358.1" cy="70.0" r="5.2" fill="#6060e4" stroke="#2a1818" stroke-width="1.25"/>
<text x="358.1" y="70.9" font-size="3.0" text-anchor="middle" fill="#3a0a0a" fill-opacity="0.55">NOS1</text>
<circle cx="387.4" cy="68.7" r="5.2" fill="#6868e6" stroke="#2a1818" stroke-width="1.25"/>
<text x="387.4" y="69.6" font-size="3.0" text-anchor="middle" fill="#3a0a0a" fill-opacity="0.55">PRKCA</text>
<circle cx="377.1" cy="73.3" r="5.2" fill="#8080e8" stroke="#2a1818" stroke-width="1.25"/>
<text x="377.1" y="74.2" font-size="3.0" text-anchor="middle" fill="#3a0a0a" fill-opacity="0.55">ADCY8</text>
<circle cx="409.6" cy="73.2" r="5.2" fill="#4848e0" stroke="#2a1818" stroke-width="1.25"/>
<text x="409.6" y="74.1" font-size="3.0" text-anchor="middle" fill="#3a0a0a" fill-opacity="0.55">ADCY</text>
<circle cx="434.4" cy="71.9" r="5.2" fill="#7070e8" stroke="#2a1818" stroke-width="1.25"/>
<text x="434.4" y="72.8" font-size="3.0" text-anchor="middle" fill="#3a0a0a" fill-opacity="0.55">ADRB1</text>
<circle cx="422.0" cy="76.1" r="5.2" fill="#6464e6" stroke="#2a1818" stroke-width="1.25"/>
<text x="422.0" y="77.0" font-size="3.0" text-anchor="middle" fill="#3a0a0a" fill-opacity="0.55">ITPR1</text>
<circle cx="351.7" cy="79.5" r="5.2" fill="#5858e4" stroke="#2a1818" stroke-width="1.25"/>
<text x="351.7" y="80.4" font-size="3.0" text-anchor="middle" fill="#3a0a0a" fill-opacity="0.55">PDE2A</text>
<circle cx="367.3" cy="80.8" r="5.2" fill="#7070e8" stroke="#2a1818" stroke-width="1.25"/>
<text x="367.3" y="81.7" font-size="3.0" text-anchor="middle" fill="#3a0a0a" fill-opacity="0.55">GNAQ</text>
<circle cx="396.7" cy="79.3" r="5.2" fill="#8c8cea" stroke="#2a1818" stroke-width="1.25"/>
<text x="396.7" y="80.2" font-size="3.0" text-anchor="middle" fill="#3a0a0a" fill-opacity="0.55">ATP2B</text>
<circle cx="430.9" cy="81.2" r="5.2" fill="#6c6ce6" stroke="#2a1818" stroke-width="1.25"/>
<text x="430.9" y="82.1" font-size="3.0" text-anchor="middle" fill="#3a0a0a" fill-opacity="0.55">PRKCB</text>
<circle cx="443.5" cy="85.0" r="5.2" fill="#7070e8" stroke="#2a1818" stroke-width="1.25"/>
<text x="443.5" y="85.9" font-size="3.0" text-anchor="middle" fill="#3a0a0a" fill-opacity="0.55">CALM1</text>
<circle cx="387.2" cy="87.7" r="5.2" fill="#6c6ce6" stroke="#2a1818" stroke-width="1.25"/>
<text x="387.2" y="88.6" font-size="3.0" text-anchor="middle" fill="#3a0a0a" fill-opacity="0.55">GNAS</text>
<circle cx="408.7" cy="85.9" r="5.2" fill="#6c6ce6" stroke="#2a1818" stroke-width="1.25"/>
<text x="408.7" y="86.8" font-size="3.0" text-anchor="middle" fill="#3a0a0a" fill-opacity="0.55">CALML</text>
<circle cx="364.4" cy="92.6" r="5.2" fill="#5c5ce4" stroke="#2a1818" stroke-width="1.25"/>
<text x="364.4" y="93.5" font-size="3.0" text-anchor="middle" fill="#3a0a0a" fill-opacity="0.55">PDE4D</text>
<circle cx="419.1" cy="93.5" r="5.2" fill="#5c5ce4" stroke="#2a1818" stroke-width="1.25"/>
<text x="419.1" y="94.4" font-size="3.0" text-anchor="middle" fill="#3a0a0a" fill-opacity="0.55">ADCY5</text>
<circle cx="434.0" cy="96.0" r="5.2" fill="#7070e8" stroke="#2a1818" stroke-width="1.25"/>
<text x="434.0" y="96.9" font-size="3.0" text-anchor="middle" fill="#3a0a0a" fill-opacity="0.55">CHRM3</text>
<circle cx="448.6" cy="98.0" r="5.2" fill="#8888ea" stroke="#2a1818" stroke-width="1.25"/>
<text x="448.6" y="98.9" font-size="3.0" text-anchor="middle" fill="#3a0a0a" fill-opacity="0.55">NFATC</text>
<circle cx="402.9" cy="98.0" r="5.2" fill="#6464e6" stroke="#2a1818" stroke-width="1.25"/>
<text x="402.9" y="98.9" font-size="3.0" text-anchor="middle" fill="#3a0a0a" fill-opacity="0.55">PRKG1</text>
<circle cx="425.8" cy="105.2" r="5.2" fill="#a8a8ee" stroke="#2a1818" stroke-width="1.25"/>
<text x="425.8" y="106.1" font-size="3.0" text-anchor="middle" fill="#3a0a0a" fill-opacity="0.55">PDE3A</text>
<circle cx="439.1" cy="107.1" r="5.2" fill="#a0a0ee" stroke="#2a1818" stroke-width="1.25"/>
<text x="439.1" y="108.0" font-size="3.0" text-anchor="middle" fill="#3a0a0a" fill-opacity="0.55">SLC8A</text>
<circle cx="369.1" cy="128.6" r="5.2" fill="#e07070" stroke="#18182a" stroke-width="1.25"/>
<text x="369.1" y="129.5" font-size="3.0" text-anchor="middle" fill="#0a0a3a" fill-opacity="0.55">NFATC</text>
<circle cx="399.5" cy="129.8" r="5.2" fill="#e06868" stroke="#18182a" stroke-width="1.25"/>
<text x="399.5" y="130.7" font-size="3.0" text-anchor="middle" fill="#0a0a3a" fill-opacity="0.55">PPP1CA</text>
<circle cx="384.1" cy="137.6" r="5.2" fill="#e47c7c" stroke="#18182a" stroke-width="1.25"/>
<text x="384.1" y="138.5" font-size="3.0" text-anchor="middle" fill="#0a0a3a" fill-opacity="0.55">MAPK1</text>
<circle cx="370.4" cy="140.0" r="5.2" fill="#e47878" stroke="#18182a" stroke-width="1.25"/>
<text x="370.4" y="140.9" font-size="3.0" text-anchor="middle" fill="#0a0a3a" fill-opacity="0.55">PIK3CA</text>
<circle cx="399.5" cy="141.1" r="5.2" fill="#e47c7c" stroke="#18182a" stroke-width="1.25"/>
<text x="399.5" y="142.0" font-size="3.0" text-anchor="middle" fill="#0a0a3a" fill-opacity="0.55">RAF1</text>
<circle cx="415.4" cy="138.1" r="5.2" fill="#eeb4b4" stroke="#18182a" stroke-width="1.25"/>
<text x="415.4" y="139.0" font-size="3.0" text-anchor="middle" fill="#0a0a3a" fill-opacity="0.55">ITGA5</text>
<circle cx="426.8" cy="137.3" r="5.2" fill="#e47c7c" stroke="#18182a" stroke-width="1.25"/>
<text x="426.8" y="138.2" font-size="3.0" text-anchor="middle" fill="#0a0a3a" fill-opacity="0.55">EGFR</text>
<circle cx="354.5" cy="147.6" r="5.2" fill="#eeb8b8" stroke="#18182a" stroke-width="1.25"/>
<text x="354.5" y="148.5" font-size="3.0" text-anchor="middle" fill="#0a0a3a" fill-opacity="0.55">MYO1C</text>
<circle cx="377.3" cy="149.5" r="5.2" fill="#e05858" stroke="#18182a" stroke-width="1.25"/>
<text x="377.3" y="150.4" font-size="3.0" text-anchor="middle" fill="#0a0a3a" fill-opacity="0.55">SOS1</text>
<circle cx="392.7" cy="150.7" r="5.2" fill="#e06464" stroke="#18182a" stroke-width="1.25"/>
<text x="392.7" y="151.6" font-size="3.0" text-anchor="middle" fill="#0a0a3a" fill-opacity="0.55">PDGFA</text>
<circle cx="408.0" cy="148.9" r="5.2" fill="#e06464" stroke="#18182a" stroke-width="1.25"/>
<text x="408.0" y="149.8" font-size="3.0" text-anchor="middle" fill="#0a0a3a" fill-opacity="0.55">FGF2</text>
<circle cx="419.6" cy="148.1" r="5.2" fill="#f0c4c4" stroke="#18182a" stroke-width="1.25"/>
<text x="419.6" y="149.0" font-size="3.0" text-anchor="middle" fill="#0a0a3a" fill-opacity="0.55">PRKCD</text>
<circle cx="435.5" cy="150.1" r="5.2" fill="#e05a5a" stroke="#18182a" stroke-width="1.25"/>
<text x="435.5" y="151.0" font-size="3.0" text-anchor="middle" fill="#0a0a3a" fill-opacity="0.55">VEGFA</text>
<circle cx="364.7" cy="156.4" r="5.2" fill="#dd5050" stroke="#18182a" stroke-width="1.25"/>
<text x="364.7" y="157.3" font-size="3.0" text-anchor="middle" fill="#0a0a3a" fill-opacity="0.55">HRAS</text>
<circle cx="377.3" cy="160.2" r="5.2" fill="#e47070" stroke="#18182a" stroke-width="1.25"/>
<text x="377.3" y="161.1" font-size="3.0" text-anchor="middle" fill="#0a0a3a" fill-opacity="0.55">PIK3CB</text>
<circle cx="352.0" cy="160.9" r="5.2" fill="#e05858" stroke="#18182a" stroke-width="1.25"/>
<text x="352.0" y="161.8" font-size="3.0" text-anchor="middle" fill="#0a0a3a" fill-opacity="0.55">FGFR1</text>
<circle cx="390.9" cy="163.7" r="5.2" fill="#e47878" stroke="#18182a" stroke-width="1.25"/>
<text x="390.9" y="164.6" font-size="3.0" text-anchor="middle" fill="#0a0a3a" fill-opacity="0.55">PTK2</text>
<circle cx="402.5" cy="159.1" r="5.2" fill="#e47a7a" stroke="#18182a" stroke-width="1.25"/>
<text x="402.5" y="160.0" font-size="3.0" text-anchor="middle" fill="#0a0a3a" fill-opacity="0.55">AKT1</text>
<circle cx="425.0" cy="159.1" r="5.2" fill="#e06060" stroke="#18182a" stroke-width="1.25"/>
<text x="425.0" y="160.0" font-size="3.0" text-anchor="middle" fill="#0a0a3a" fill-opacity="0.55">MAPK3</text>
<circle cx="413.0" cy="166.9" r="5.2" fill="#e47a7a" stroke="#18182a" stroke-width="1.25"/>
<text x="413.0" y="167.8" font-size="3.0" text-anchor="middle" fill="#0a0a3a" fill-opacity="0.55">NRAS</text>
<circle cx="365.9" cy="166.5" r="5.2" fill="#e47c7c" stroke="#18182a" stroke-width="1.25"/>
<text x="365.9" y="167.4" font-size="3.0" text-anchor="middle" fill="#0a0a3a" fill-opacity="0.55">CDC42</text>
<circle cx="384.0" cy="172.0" r="5.2" fill="#e47070" stroke="#18182a" stroke-width="1.25"/>
<text x="384.0" y="172.9" font-size="3.0" text-anchor="middle" fill="#0a0a3a" fill-opacity="0.55">PLCG1</text>
<circle cx="399.3" cy="171.3" r="5.2" fill="#e47474" stroke="#18182a" stroke-width="1.25"/>
<text x="399.3" y="172.2" font-size="3.0" text-anchor="middle" fill="#0a0a3a" fill-opacity="0.55">SHC1</text>
<rect x="381.8" y="105.2" width="11" height="10.6" rx="1.5" fill="#7070ea" stroke="#2a2a2a" stroke-width="1"/>
<text x="387.3" y="111.4" font-size="2.6" text-anchor="middle" fill="#333">PLCB4</text>
<path d="M535.4 110.5L530.9 48.2M535.4 110.5L546.3 49.1M535.4 110.5L515.7 51.1M535.4 110.5L561.0 54.1M535.4 110.5L503.6 57.1M535.4 110.5L525.8 59.3M535.4 110.5L541.6 58.8M535.4 110.5L492.2 64.7M535.4 110.5L515.0 64.1M535.4 110.5L552.0 64.2M535.4 110.5L572.3 62.2M535.4 110.5L506.2 70.0M535.4 110.5L535.5 68.7M535.4 110.5L525.2 73.3M535.4 110.5L557.7 73.2M535.4 110.5L582.5 71.9M535.4 110.5L570.1 76.1M535.4 110.5L499.8 79.5M535.4 110.5L515.4 80.8M535.4 110.5L544.8 79.3M535.4 110.5L579.0 81.2M535.4 110.5L591.6 85.0M535.4 110.5L535.3 87.7M535.4 110.5L556.8 85.9M535.4 110.5L512.5 92.6M535.4 110.5L567.2 93.5M535.4 110.5L582.1 96.0M535.4 110.5L596.7 98.0M535.4 110.5L551.0 98.0M535.4 110.5L573.9 105.2M535.4 110.5L587.2 107.1M535.4 110.5L517.2 128.6M535.4 110.5L547.6 129.8M535.4 110.5L532.2 137.6M535.4 110.5L518.5 140.0M535.4 110.5L547.6 141.1M535.4 110.5L563.5 138.1M535.4 110.5L574.9 137.3M535.4 110.5L502.6 147.6M535.4 110.5L525.4 149.5M535.4 110.5L540.8 150.7M535.4 110.5L556.1 148.9M535.4 110.5L567.7 148.1M535.4 110.5L583.6 150.1M535.4 110.5L512.8 156.4M535.4 110.5L525.4 160.2M535.4 110.5L500.1 160.9M535.4 110.5L539.0 163.7M535.4 110.5L550.6 159.1M535.4 110.5L573.1 159.1M535.4 110.5L561.1 166.9M535.4 110.5L514.0 166.5M535.4 110.5L532.1 172.0M535.4 110.5L547.4 171.3M535.4 110.5L484.4 75.9M535.4 110.5L476.8 86.8M535.4 110.5L489.3 86.5M535.4 110.5L483.0 97.0M535.4 110.5L497.6 98.8M535.4 110.5L471.5 102.6M535.4 110.5L486.2 109.2M535.4 110.5L507.2 108.3M535.4 110.5L471.6 114.0M535.4 110.5L482.4 119.1M535.4 110.5L496.3 119.7M535.4 110.5L509.0 120.3M535.4 110.5L476.7 128.6M535.4 110.5L498.2 128.6M535.4 110.5L481.1 140.0M535.4 110.5L495.7 138.7M535.4 110.5L490.0 150.1M535.4 110.5L599.8 113.4M535.4 110.5L589.0 117.0M535.4 110.5L599.8 123.1M535.4 110.5L583.0 122.0M535.4 110.5L574.2 128.7M535.4 110.5L585.5 130.2M535.4 110.5L597.2 130.8M535.4 110.5L591.1 140.0M486.2 109.2L507.2 108.3M496.3 119.7L509.0 120.3M496.3 119.7L482.4 119.1M497.6 98.8L483.0 97.0M476.8 86.8L489.3 86.5M498.2 128.6L476.7 128.6M495.7 138.7L481.1 140.0M490.0 150.1L495.7 138.7M507.2 108.3L509.0 120.3" stroke="#999" stroke-width="0.9" fill="none"/>
<circle cx="484.4" cy="75.9" r="5.3" fill="#fff" stroke="#808080" stroke-width="0.75"/>
<text x="484.4" y="76.8" font-size="3.3" text-anchor="middle" fill="#222">PLCB4</text>
<circle cx="476.8" cy="86.8" r="5.3" fill="#fff" stroke="#808080" stroke-width="0.75"/>
<text x="476.8" y="87.7" font-size="3.3" text-anchor="middle" fill="#222">CNGA1</text>
<circle cx="489.3" cy="86.5" r="5.3" fill="#fff" stroke="#808080" stroke-width="0.75"/>
<text x="489.3" y="87.4" font-size="3.3" text-anchor="middle" fill="#222">RYR2</text>
<circle cx="483.0" cy="97.0" r="5.3" fill="#fff" stroke="#808080" stroke-width="0.75"/>
<text x="483.0" y="97.9" font-size="3.3" text-anchor="middle" fill="#222">CNGA3</text>
<circle cx="497.6" cy="98.8" r="5.3" fill="#fff" stroke="#808080" stroke-width="0.75"/>
<text x="497.6" y="99.7" font-size="3.3" text-anchor="middle" fill="#222">CACNA1D</text>
<circle cx="471.5" cy="102.6" r="5.3" fill="#fff" stroke="#808080" stroke-width="0.75"/>
<text x="471.5" y="103.5" font-size="3.3" text-anchor="middle" fill="#222">CACNA1C</text>
<circle cx="486.2" cy="109.2" r="5.3" fill="#fff" stroke="#808080" stroke-width="0.75"/>
<text x="486.2" y="110.1" font-size="3.3" text-anchor="middle" fill="#222">PHKB</text>
<circle cx="507.2" cy="108.3" r="5.3" fill="#fff" stroke="#808080" stroke-width="0.75"/>
<text x="507.2" y="109.2" font-size="3.3" text-anchor="middle" fill="#222">MYLK4</text>
<circle cx="471.6" cy="114.0" r="5.3" fill="#fff" stroke="#808080" stroke-width="0.75"/>
<text x="471.6" y="114.9" font-size="3.3" text-anchor="middle" fill="#222">TTN</text>
<circle cx="482.4" cy="119.1" r="5.3" fill="#fff" stroke="#808080" stroke-width="0.75"/>
<text x="482.4" y="120.0" font-size="3.3" text-anchor="middle" fill="#222">GRIN2B</text>
<circle cx="496.3" cy="119.7" r="5.3" fill="#fff" stroke="#808080" stroke-width="0.75"/>
<text x="496.3" y="120.6" font-size="3.3" text-anchor="middle" fill="#222">PLCB1</text>
<circle cx="509.0" cy="120.3" r="5.3" fill="#fff" stroke="#808080" stroke-width="0.75"/>
<text x="509.0" y="121.2" font-size="3.3" text-anchor="middle" fill="#222">GRIN1</text>
<circle cx="476.7" cy="128.6" r="5.3" fill="#fff" stroke="#808080" stroke-width="0.75"/>
<text x="476.7" y="129.5" font-size="3.3" text-anchor="middle" fill="#222">PLCG2</text>
<circle cx="498.2" cy="128.6" r="5.3" fill="#fff" stroke="#808080" stroke-width="0.75"/>
<text x="498.2" y="129.5" font-size="3.3" text-anchor="middle" fill="#222">GRIN2A</text>
<circle cx="481.1" cy="140.0" r="5.3" fill="#fff" stroke="#808080" stroke-width="0.75"/>
<text x="481.1" y="140.9" font-size="3.3" text-anchor="middle" fill="#222">NFT</text>
<circle cx="495.7" cy="138.7" r="5.3" fill="#fff" stroke="#808080" stroke-width="0.75"/>
<text x="495.7" y="139.6" font-size="3.3" text-anchor="middle" fill="#222">PPP3R1</text>
<circle cx="490.0" cy="150.1" r="5.3" fill="#fff" stroke="#808080" stroke-width="0.75"/>
<text x="490.0" y="151.0" font-size="3.3" text-anchor="middle" fill="#222">MYLK2</text>
<circle cx="599.8" cy="113.4" r="3.2" fill="#fff" stroke="#808080" stroke-width="0.6"/>
<text x="599.8" y="114.2" font-size="3.0" text-anchor="middle" fill="#333">PDE1B</text>
<circle cx="589.0" cy="117.0" r="3.2" fill="#fff" stroke="#808080" stroke-width="0.6"/>
<text x="589.0" y="117.8" font-size="3.0" text-anchor="middle" fill="#333">PTGER</text>
<circle cx="599.8" cy="123.1" r="3.2" fill="#fff" stroke="#808080" stroke-width="0.6"/>
<text x="599.8" y="123.9" font-size="3.0" text-anchor="middle" fill="#333">PLCB3</text>
<circle cx="583.0" cy="122.0" r="3.2" fill="#fff" stroke="#808080" stroke-width="0.6"/>
<text x="583.0" y="122.8" font-size="3.0" text-anchor="middle" fill="#333">PLCE1</text>
<circle cx="574.2" cy="128.7" r="3.2" fill="#fff" stroke="#808080" stroke-width="0.6"/>
<text x="574.2" y="129.5" font-size="3.0" text-anchor="middle" fill="#333">PDE1A</text>
<circle cx="585.5" cy="130.2" r="3.2" fill="#fff" stroke="#808080" stroke-width="0.6"/>
<text x="585.5" y="131.0" font-size="3.0" text-anchor="middle" fill="#333">ADCY3</text>
<circle cx="597.2" cy="130.8" r="3.2" fill="#fff" stroke="#808080" stroke-width="0.6"/>
<text x="597.2" y="131.6" font-size="3.0" text-anchor="middle" fill="#333">ADCY9</text>
<circle cx="591.1" cy="140.0" r="3.2" fill="#fff" stroke="#808080" stroke-width="0.6"/>
<text x="591.1" y="140.8" font-size="3.0" text-anchor="middle" fill="#333">PTGER3</text>
<circle cx="530.9" cy="48.2" r="5.2" fill="#a0a0ee" stroke="#2a1818" stroke-width="1.25"/>
<text x="530.9" y="49.1" font-size="3.0" text-anchor="middle" fill="#3a0a0a" fill-opacity="0.55">NOS3</text>
<circle cx="546.3" cy="49.1" r="5.2" fill="#9c9cec" stroke="#2a1818" stroke-width="1.25"/>
<text x="546.3" y="50.0" font-size="3.0" text-anchor="middle" fill="#3a0a0a" fill-opacity="0.55">PTGS</text>
<circle cx="515.7" cy="51.1" r="5.2" fill="#3434dc" stroke="#2a1818" stroke-width="1.25"/>
<text x="515.7" y="52.0" font-size="3.0" text-anchor="middle" fill="#3a0a0a" fill-opacity="0.55">NBO1</text>
<circle cx="561.0" cy="54.1" r="5.2" fill="#9898ec" stroke="#2a1818" stroke-width="1.25"/>
<text x="561.0" y="55.0" font-size="3.0" text-anchor="middle" fill="#3a0a0a" fill-opacity="0.55">NOS2</text>
<circle cx="503.6" cy="57.1" r="5.2" fill="#8080e8" stroke="#2a1818" stroke-width="1.25"/>
<text x="503.6" y="58.0" font-size="3.0" text-anchor="middle" fill="#3a0a0a" fill-opacity="0.55">PDE1C</text>
<circle cx="525.8" cy="59.3" r="5.2" fill="#8a8aea" stroke="#2a1818" stroke-width="1.25"/>
<text x="525.8" y="60.2" font-size="3.0" text-anchor="middle" fill="#3a0a0a" fill-opacity="0.55">PPP3C</text>
<circle cx="541.6" cy="58.8" r="5.2" fill="#8080e8" stroke="#2a1818" stroke-width="1.25"/>
<text x="541.6" y="59.7" font-size="3.0" text-anchor="middle" fill="#3a0a0a" fill-opacity="0.55">CAMK2</text>
<circle cx="492.2" cy="64.7" r="5.2" fill="#8484ea" stroke="#2a1818" stroke-width="1.25"/>
<text x="492.2" y="65.6" font-size="3.0" text-anchor="middle" fill="#3a0a0a" fill-opacity="0.55">PLCB2</text>
<circle cx="515.0" cy="64.1" r="5.2" fill="#b0b0f0" stroke="#2a1818" stroke-width="1.25"/>
<text x="515.0" y="65.0" font-size="3.0" text-anchor="middle" fill="#3a0a0a" fill-opacity="0.55">ADCY1</text>
<circle cx="552.0" cy="64.2" r="5.2" fill="#9898ec" stroke="#2a1818" stroke-width="1.25"/>
<text x="552.0" y="65.1" font-size="3.0" text-anchor="middle" fill="#3a0a0a" fill-opacity="0.55">CAMK4</text>
<circle cx="572.3" cy="62.2" r="5.2" fill="#a8a8ee" stroke="#2a1818" stroke-width="1.25"/>
<text x="572.3" y="63.1" font-size="3.0" text-anchor="middle" fill="#3a0a0a" fill-opacity="0.55">PDE1A</text>
<circle cx="506.2" cy="70.0" r="5.2" fill="#8080e8" stroke="#2a1818" stroke-width="1.25"/>
<text x="506.2" y="70.9" font-size="3.0" text-anchor="middle" fill="#3a0a0a" fill-opacity="0.55">NOS1</text>
<circle cx="535.5" cy="68.7" r="5.2" fill="#b0b0f0" stroke="#2a1818" stroke-width="1.25"/>
<text x="535.5" y="69.6" font-size="3.0" text-anchor="middle" fill="#3a0a0a" fill-opacity="0.55">PRKCA</text>
<circle cx="525.2" cy="73.3" r="5.2" fill="#8484ea" stroke="#2a1818" stroke-width="1.25"/>
<text x="525.2" y="74.2" font-size="3.0" text-anchor="middle" fill="#3a0a0a" fill-opacity="0.55">ADCY8</text>
<circle cx="557.7" cy="73.2" r="5.2" fill="#a8a8ee" stroke="#2a1818" stroke-width="1.25"/>
<text x="557.7" y="74.1" font-size="3.0" text-anchor="middle" fill="#3a0a0a" fill-opacity="0.55">ADCY</text>
<circle cx="582.5" cy="71.9" r="5.2" fill="#a8a8ee" stroke="#2a1818" stroke-width="1.25"/>
<text x="582.5" y="72.8" font-size="3.0" text-anchor="middle" fill="#3a0a0a" fill-opacity="0.55">ADRB1</text>
<circle cx="570.1" cy="76.1" r="5.2" fill="#a8a8ee" stroke="#2a1818" stroke-width="1.25"/>
<text x="570.1" y="77.0" font-size="3.0" text-anchor="middle" fill="#3a0a0a" fill-opacity="0.55">ITPR1</text>
<circle cx="499.8" cy="79.5" r="5.2" fill="#8080e8" stroke="#2a1818" stroke-width="1.25"/>
<text x="499.8" y="80.4" font-size="3.0" text-anchor="middle" fill="#3a0a0a" fill-opacity="0.55">PDE2A</text>
<circle cx="515.4" cy="80.8" r="5.2" fill="#a0a0ee" stroke="#2a1818" stroke-width="1.25"/>
<text x="515.4" y="81.7" font-size="3.0" text-anchor="middle" fill="#3a0a0a" fill-opacity="0.55">GNAQ</text>
<circle cx="544.8" cy="79.3" r="5.2" fill="#8c8cea" stroke="#2a1818" stroke-width="1.25"/>
<text x="544.8" y="80.2" font-size="3.0" text-anchor="middle" fill="#3a0a0a" fill-opacity="0.55">ATP2B</text>
<circle cx="579.0" cy="81.2" r="5.2" fill="#7070e6" stroke="#2a1818" stroke-width="1.25"/>
<text x="579.0" y="82.1" font-size="3.0" text-anchor="middle" fill="#3a0a0a" fill-opacity="0.55">PRKCB</text>
<circle cx="591.6" cy="85.0" r="5.2" fill="#8080e8" stroke="#2a1818" stroke-width="1.25"/>
<text x="591.6" y="85.9" font-size="3.0" text-anchor="middle" fill="#3a0a0a" fill-opacity="0.55">CALM1</text>
<circle cx="535.3" cy="87.7" r="5.2" fill="#a0a0ee" stroke="#2a1818" stroke-width="1.25"/>
<text x="535.3" y="88.6" font-size="3.0" text-anchor="middle" fill="#3a0a0a" fill-opacity="0.55">GNAS</text>
<circle cx="556.8" cy="85.9" r="5.2" fill="#8888ea" stroke="#2a1818" stroke-width="1.25"/>
<text x="556.8" y="86.8" font-size="3.0" text-anchor="middle" fill="#3a0a0a" fill-opacity="0.55">CALML</text>
<circle cx="512.5" cy="92.6" r="5.2" fill="#8080e8" stroke="#2a1818" stroke-width="1.25"/>
<text x="512.5" y="93.5" font-size="3.0" text-anchor="middle" fill="#3a0a0a" fill-opacity="0.55">PDE4D</text>
<circle cx="567.2" cy="93.5" r="5.2" fill="#c8c8f2" stroke="#2a1818" stroke-width="1.25"/>
<text x="567.2" y="94.4" font-size="3.0" text-anchor="middle" fill="#3a0a0a" fill-opacity="0.55">ADCY5</text>
<circle cx="582.1" cy="96.0" r="5.2" fill="#a8a8ee" stroke="#2a1818" stroke-width="1.25"/>
<text x="582.1" y="96.9" font-size="3.0" text-anchor="middle" fill="#3a0a0a" fill-opacity="0.55">CHRM3</text>
<circle cx="596.7" cy="98.0" r="5.2" fill="#8888ea" stroke="#2a1818" stroke-width="1.25"/>
<text x="596.7" y="98.9" font-size="3.0" text-anchor="middle" fill="#3a0a0a" fill-opacity="0.55">NFATC</text>
<circle cx="551.0" cy="98.0" r="5.2" fill="#8c8cea" stroke="#2a1818" stroke-width="1.25"/>
<text x="551.0" y="98.9" font-size="3.0" text-anchor="middle" fill="#3a0a0a" fill-opacity="0.55">PRKG1</text>
<circle cx="573.9" cy="105.2" r="5.2" fill="#a8a8ee" stroke="#2a1818" stroke-width="1.25"/>
<text x="573.9" y="106.1" font-size="3.0" text-anchor="middle" fill="#3a0a0a" fill-opacity="0.55">PDE3A</text>
<circle cx="587.2" cy="107.1" r="5.2" fill="#7878e8" stroke="#2a1818" stroke-width="1.25"/>
<text x="587.2" y="108.0" font-size="3.0" text-anchor="middle" fill="#3a0a0a" fill-opacity="0.55">SLC8A</text>
<circle cx="517.2" cy="128.6" r="5.2" fill="#e07878" stroke="#18182a" stroke-width="1.25"/>
<text x="517.2" y="129.5" font-size="3.0" text-anchor="middle" fill="#0a0a3a" fill-opacity="0.55">NFATC</text>
<circle cx="547.6" cy="129.8" r="5.2" fill="#e07474" stroke="#18182a" stroke-width="1.25"/>
<text x="547.6" y="130.7" font-size="3.0" text-anchor="middle" fill="#0a0a3a" fill-opacity="0.55">PPP1CA</text>
<circle cx="532.2" cy="137.6" r="5.2" fill="#eca8a8" stroke="#18182a" stroke-width="1.25"/>
<text x="532.2" y="138.5" font-size="3.0" text-anchor="middle" fill="#0a0a3a" fill-opacity="0.55">MAPK1</text>
<circle cx="518.5" cy="140.0" r="5.2" fill="#e89090" stroke="#18182a" stroke-width="1.25"/>
<text x="518.5" y="140.9" font-size="3.0" text-anchor="middle" fill="#0a0a3a" fill-opacity="0.55">PIK3CA</text>
<circle cx="547.6" cy="141.1" r="5.2" fill="#f2c8c8" stroke="#18182a" stroke-width="1.25"/>
<text x="547.6" y="142.0" font-size="3.0" text-anchor="middle" fill="#0a0a3a" fill-opacity="0.55">RAF1</text>
<circle cx="563.5" cy="138.1" r="5.2" fill="#eca4a4" stroke="#18182a" stroke-width="1.25"/>
<text x="563.5" y="139.0" font-size="3.0" text-anchor="middle" fill="#0a0a3a" fill-opacity="0.55">ITGA5</text>
<circle cx="574.9" cy="137.3" r="5.2" fill="#d84848" stroke="#18182a" stroke-width="1.25"/>
<text x="574.9" y="138.2" font-size="3.0" text-anchor="middle" fill="#0a0a3a" fill-opacity="0.55">EGFR</text>
<circle cx="502.6" cy="147.6" r="5.2" fill="#eaa0a0" stroke="#18182a" stroke-width="1.25"/>
<text x="502.6" y="148.5" font-size="3.0" text-anchor="middle" fill="#0a0a3a" fill-opacity="0.55">MYO1C</text>
<circle cx="525.4" cy="149.5" r="5.2" fill="#e47c7c" stroke="#18182a" stroke-width="1.25"/>
<text x="525.4" y="150.4" font-size="3.0" text-anchor="middle" fill="#0a0a3a" fill-opacity="0.55">SOS1</text>
<circle cx="540.8" cy="150.7" r="5.2" fill="#eca4a4" stroke="#18182a" stroke-width="1.25"/>
<text x="540.8" y="151.6" font-size="3.0" text-anchor="middle" fill="#0a0a3a" fill-opacity="0.55">PDGFA</text>
<circle cx="556.1" cy="148.9" r="5.2" fill="#e48080" stroke="#18182a" stroke-width="1.25"/>
<text x="556.1" y="149.8" font-size="3.0" text-anchor="middle" fill="#0a0a3a" fill-opacity="0.55">FGF2</text>
<circle cx="567.7" cy="148.1" r="5.2" fill="#f2c4c4" stroke="#18182a" stroke-width="1.25"/>
<text x="567.7" y="149.0" font-size="3.0" text-anchor="middle" fill="#0a0a3a" fill-opacity="0.55">PRKCD</text>
<circle cx="583.6" cy="150.1" r="5.2" fill="#f0c0c0" stroke="#18182a" stroke-width="1.25"/>
<text x="583.6" y="151.0" font-size="3.0" text-anchor="middle" fill="#0a0a3a" fill-opacity="0.55">VEGFA</text>
<circle cx="512.8" cy="156.4" r="5.2" fill="#e47c7c" stroke="#18182a" stroke-width="1.25"/>
<text x="512.8" y="157.3" font-size="3.0" text-anchor="middle" fill="#0a0a3a" fill-opacity="0.55">HRAS</text>
<circle cx="525.4" cy="160.2" r="5.2" fill="#e07070" stroke="#18182a" stroke-width="1.25"/>
<text x="525.4" y="161.1" font-size="3.0" text-anchor="middle" fill="#0a0a3a" fill-opacity="0.55">PIK3CB</text>
<circle cx="500.1" cy="160.9" r="5.2" fill="#e06a6a" stroke="#18182a" stroke-width="1.25"/>
<text x="500.1" y="161.8" font-size="3.0" text-anchor="middle" fill="#0a0a3a" fill-opacity="0.55">FGFR1</text>
<circle cx="539.0" cy="163.7" r="5.2" fill="#eca4a4" stroke="#18182a" stroke-width="1.25"/>
<text x="539.0" y="164.6" font-size="3.0" text-anchor="middle" fill="#0a0a3a" fill-opacity="0.55">PTK2</text>
<circle cx="550.6" cy="159.1" r="5.2" fill="#f4d0d0" stroke="#18182a" stroke-width="1.25"/>
<text x="550.6" y="160.0" font-size="3.0" text-anchor="middle" fill="#0a0a3a" fill-opacity="0.55">AKT1</text>
<circle cx="573.1" cy="159.1" r="5.2" fill="#f6dcdc" stroke="#18182a" stroke-width="1.25"/>
<text x="573.1" y="160.0" font-size="3.0" text-anchor="middle" fill="#0a0a3a" fill-opacity="0.55">MAPK3</text>
<circle cx="561.1" cy="166.9" r="5.2" fill="#e89898" stroke="#18182a" stroke-width="1.25"/>
<text x="561.1" y="167.8" font-size="3.0" text-anchor="middle" fill="#0a0a3a" fill-opacity="0.55">NRAS</text>
<circle cx="514.0" cy="166.5" r="5.2" fill="#eeb4b4" stroke="#18182a" stroke-width="1.25"/>
<text x="514.0" y="167.4" font-size="3.0" text-anchor="middle" fill="#0a0a3a" fill-opacity="0.55">CDC42</text>
<circle cx="532.1" cy="172.0" r="5.2" fill="#eca4a4" stroke="#18182a" stroke-width="1.25"/>
<text x="532.1" y="172.9" font-size="3.0" text-anchor="middle" fill="#0a0a3a" fill-opacity="0.55">PLCG1</text>
<circle cx="547.4" cy="171.3" r="5.2" fill="#eca4a4" stroke="#18182a" stroke-width="1.25"/>
<text x="547.4" y="172.2" font-size="3.0" text-anchor="middle" fill="#0a0a3a" fill-opacity="0.55">SHC1</text>
<rect x="529.9" y="105.2" width="11" height="10.6" rx="1.5" fill="#c0c0f4" stroke="#2a2a2a" stroke-width="1"/>
<text x="535.4" y="111.4" font-size="2.6" text-anchor="middle" fill="#333">PLCB4</text>
</g>
<path d="M81.0 32.92 L86.1 31.93 L91.2 30.98 L96.4 30.06 L101.5 29.17 L106.6 28.32 L111.7 27.50 L116.8 26.71 L121.9 25.96 L127.1 25.24 L132.2 24.56 L137.3 23.91 L142.4 23.29 L147.5 22.70 L152.7 22.16 L157.8 21.64 L162.9 21.16 L168.0 20.71 L173.1 20.30 L178.3 19.92 L183.4 19.57 L188.5 19.26 L193.6 18.98 L198.7 18.74 L203.8 18.53 L209.0 18.36 L214.1 18.22 L219.2 18.11 L224.3 18.04 L229.4 18.01 L234.6 18.01 L239.7 18.04 L244.8 18.11 L249.9 18.21 L255.0 18.35 L260.2 18.52 L265.3 18.72 L270.4 18.97 L275.5 19.24 L280.6 19.55 L285.7 19.90 L290.9 20.28 L296.0 20.70 L301.1 21.15 L306.2 21.64 L311.3 22.16 L316.5 22.72 L321.6 23.31 L326.7 23.94 L331.8 24.60 L336.9 25.30 L342.1 26.03 L347.2 26.80 L352.3 27.61 L357.4 28.45 L362.5 29.32 L367.6 30.24 L372.8 31.18 L377.9 32.17 L383.0 33.19" stroke="#222" stroke-width="1.3" fill="none"/>
<path d="M388.2 33.9 L381.6 36.1 L382.6 30.6 Z" fill="#111"/>
<text x="187.2" y="11.8" font-size="10.15" fill="#222" stroke="#222" stroke-width="0.18">Expression turnover</text>
<text x="160.2" y="36" font-size="10.18" fill="#222" stroke="#222" stroke-width="0.18">DEGs (W2 vs.W4):75% (54/72)</text>
<text x="-0.6" y="7.7" font-size="14.5" font-weight="bold" fill="#000">a</text>
<rect x="388.4" y="3.9" width="7" height="7" rx="1.2" fill="#fff" stroke="#333" stroke-width="0.8"/>
<text x="399.8" y="10.3" font-size="7.4" fill="#222" stroke="#222" stroke-width="0.18">DNB members</text>
<circle cx="392.2" cy="19.2" r="4.1" fill="#fff" stroke="#333" stroke-width="0.8"/>
<text x="399.8" y="21.6" font-size="7.37" fill="#222" stroke="#222" stroke-width="0.18">DNB neighbour proteins</text>
<defs>
<linearGradient id="cb" x1="0" x2="1" y1="0" y2="0">
<stop offset="0" stop-color="#1a1ad8"/><stop offset="0.5" stop-color="#ffffff"/><stop offset="1" stop-color="#d81c1c"/>
</linearGradient></defs>
<text x="501.6" y="7.0" font-size="7.34" fill="#222" stroke="#222" stroke-width="0.18">Gene expressions (<tspan font-style="italic">z</tspan>-score)</text>
<rect x="501.1" y="10.2" width="92" height="6.4" fill="url(#cb)"/>
<line x1="547.2" y1="15.2" x2="547.2" y2="16.6" stroke="#333" stroke-width="0.5"/>
<text x="500.8" y="25.0" font-size="7.6" fill="#222" text-anchor="middle" stroke="#222" stroke-width="0.18">−1.5</text>
<text x="546.8" y="25.0" font-size="7.6" fill="#222" text-anchor="middle" stroke="#222" stroke-width="0.18">0</text>
<text x="592.3" y="22.8" font-size="7.6" fill="#222" text-anchor="middle" stroke="#222" stroke-width="0.18">1.5</text>
<line x1="29.2" y1="183.5" x2="583" y2="183.5" stroke="#111" stroke-width="1.2"/>
<path d="M588.6 183.5 L582.4 180.5 L582.4 186.5 Z" fill="#111"/>
<text x="91.7" y="197" font-size="10.3" fill="#222" text-anchor="middle" stroke="#222" stroke-width="0.18">W2</text>
<text x="240.6" y="197" font-size="10.3" fill="#d42a3c" text-anchor="middle" stroke="#d42a3c" stroke-width="0.18">W3</text>
<text x="388.6" y="197" font-size="10.3" fill="#222" text-anchor="middle" stroke="#222" stroke-width="0.18">W4</text>
<text x="536.8" y="197" font-size="10.3" fill="#222" stroke="#222" stroke-width="0.18">W5 Time (week)</text>
<text x="-0.3" y="221.0" font-size="14.5" font-weight="bold" fill="#000">b</text>
<line x1="13.2" y1="217" x2="534.6" y2="217" stroke="#333" stroke-width="1.3"/>
<text x="57.9" y="229.9" font-size="10.2" fill="#1a1a1a" text-anchor="middle" stroke="#1a1a1a" stroke-width="0.18">Cluster 1 (15)</text>
<path d="M19.3 237.4 L45.0 252.1 L70.8 266.8 L96.5 266.8" stroke="#2a2a2a" stroke-width="1.5" fill="none" stroke-linejoin="round"/>
<line x1="19.3" y1="271.6" x2="96.5" y2="271.6" stroke="#777" stroke-width="0.9"/>
<line x1="19.3" y1="271.6" x2="19.3" y2="273.5" stroke="#777" stroke-width="0.9"/>
<text x="19.8" y="283.4" font-size="8.7" fill="#1a1a1a" text-anchor="middle" stroke="#1a1a1a" stroke-width="0.18">W2</text>
<line x1="45.0" y1="271.6" x2="45.0" y2="273.5" stroke="#777" stroke-width="0.9"/>
<text x="45.8" y="283.4" font-size="8.7" fill="#d42a3c" text-anchor="middle" stroke="#d42a3c" stroke-width="0.18">W3</text>
<line x1="70.8" y1="271.6" x2="70.8" y2="273.5" stroke="#777" stroke-width="0.9"/>
<text x="71.6" y="283.4" font-size="8.7" fill="#1a1a1a" text-anchor="middle" stroke="#1a1a1a" stroke-width="0.18">W4</text>
<line x1="96.5" y1="271.6" x2="96.5" y2="273.5" stroke="#777" stroke-width="0.9"/>
<text x="94.0" y="283.4" font-size="8.7" fill="#1a1a1a" text-anchor="middle" stroke="#1a1a1a" stroke-width="0.18">W5</text>
<text x="144.3" y="229.9" font-size="10.2" fill="#1a1a1a" text-anchor="middle" stroke="#1a1a1a" stroke-width="0.18">Cluster 2 (9)</text>
<path d="M105.6 266.8 L131.4 252.1 L157.1 237.4 L182.9 237.4" stroke="#2a2a2a" stroke-width="1.5" fill="none" stroke-linejoin="round"/>
<line x1="105.6" y1="271.6" x2="182.9" y2="271.6" stroke="#777" stroke-width="0.9"/>
<line x1="105.6" y1="271.6" x2="105.6" y2="273.5" stroke="#777" stroke-width="0.9"/>
<text x="108.4" y="283.4" font-size="8.7" fill="#1a1a1a" text-anchor="middle" stroke="#1a1a1a" stroke-width="0.18">W2</text>
<line x1="131.4" y1="271.6" x2="131.4" y2="273.5" stroke="#777" stroke-width="0.9"/>
<text x="132.2" y="283.4" font-size="8.7" fill="#d42a3c" text-anchor="middle" stroke="#d42a3c" stroke-width="0.18">W3</text>
<line x1="157.1" y1="271.6" x2="157.1" y2="273.5" stroke="#777" stroke-width="0.9"/>
<text x="157.9" y="283.4" font-size="8.7" fill="#1a1a1a" text-anchor="middle" stroke="#1a1a1a" stroke-width="0.18">W4</text>
<line x1="182.9" y1="271.6" x2="182.9" y2="273.5" stroke="#777" stroke-width="0.9"/>
<text x="180.4" y="283.4" font-size="8.7" fill="#1a1a1a" text-anchor="middle" stroke="#1a1a1a" stroke-width="0.18">W5</text>
<text x="230.6" y="229.9" font-size="10.2" fill="#1a1a1a" text-anchor="middle" stroke="#1a1a1a" stroke-width="0.18">Cluster 3 (12)</text>
<path d="M192.0 237.4 L217.7 266.8 L243.5 266.8 L269.2 266.8" stroke="#2a2a2a" stroke-width="1.5" fill="none" stroke-linejoin="round"/>
<line x1="192.0" y1="271.6" x2="269.2" y2="271.6" stroke="#777" stroke-width="0.9"/>
<line x1="192.0" y1="271.6" x2="192.0" y2="273.5" stroke="#777" stroke-width="0.9"/>
<text x="194.8" y="283.4" font-size="8.7" fill="#1a1a1a" text-anchor="middle" stroke="#1a1a1a" stroke-width="0.18">W2</text>
<line x1="217.7" y1="271.6" x2="217.7" y2="273.5" stroke="#777" stroke-width="0.9"/>
<text x="218.5" y="283.4" font-size="8.7" fill="#d42a3c" text-anchor="middle" stroke="#d42a3c" stroke-width="0.18">W3</text>
<line x1="243.5" y1="271.6" x2="243.5" y2="273.5" stroke="#777" stroke-width="0.9"/>
<text x="244.3" y="283.4" font-size="8.7" fill="#1a1a1a" text-anchor="middle" stroke="#1a1a1a" stroke-width="0.18">W4</text>
<line x1="269.2" y1="271.6" x2="269.2" y2="273.5" stroke="#777" stroke-width="0.9"/>
<text x="266.7" y="283.4" font-size="8.7" fill="#1a1a1a" text-anchor="middle" stroke="#1a1a1a" stroke-width="0.18">W5</text>
<text x="316.9" y="229.9" font-size="10.2" fill="#1a1a1a" text-anchor="middle" stroke="#1a1a1a" stroke-width="0.18">Cluster 4 (14)</text>
<path d="M278.3 266.8 L304.0 237.4 L329.8 237.4 L355.5 237.4" stroke="#2a2a2a" stroke-width="1.5" fill="none" stroke-linejoin="round"/>
<line x1="278.3" y1="271.6" x2="355.5" y2="271.6" stroke="#777" stroke-width="0.9"/>
<line x1="278.3" y1="271.6" x2="278.3" y2="273.5" stroke="#777" stroke-width="0.9"/>
<text x="281.1" y="283.4" font-size="8.7" fill="#1a1a1a" text-anchor="middle" stroke="#1a1a1a" stroke-width="0.18">W2</text>
<line x1="304.0" y1="271.6" x2="304.0" y2="273.5" stroke="#777" stroke-width="0.9"/>
<text x="304.8" y="283.4" font-size="8.7" fill="#d42a3c" text-anchor="middle" stroke="#d42a3c" stroke-width="0.18">W3</text>
<line x1="329.8" y1="271.6" x2="329.8" y2="273.5" stroke="#777" stroke-width="0.9"/>
<text x="330.6" y="283.4" font-size="8.7" fill="#1a1a1a" text-anchor="middle" stroke="#1a1a1a" stroke-width="0.18">W4</text>
<line x1="355.5" y1="271.6" x2="355.5" y2="273.5" stroke="#777" stroke-width="0.9"/>
<text x="353.0" y="283.4" font-size="8.7" fill="#1a1a1a" text-anchor="middle" stroke="#1a1a1a" stroke-width="0.18">W5</text>
<text x="403.2" y="229.9" font-size="10.2" fill="#1a1a1a" text-anchor="middle" stroke="#1a1a1a" stroke-width="0.18">Cluster 5 (5)</text>
<path d="M364.6 237.4 L390.4 237.4 L416.1 266.8 L441.9 266.8" stroke="#2a2a2a" stroke-width="1.5" fill="none" stroke-linejoin="round"/>
<line x1="364.6" y1="271.6" x2="441.9" y2="271.6" stroke="#777" stroke-width="0.9"/>
<line x1="364.6" y1="271.6" x2="364.6" y2="273.5" stroke="#777" stroke-width="0.9"/>
<text x="367.4" y="283.4" font-size="8.7" fill="#1a1a1a" text-anchor="middle" stroke="#1a1a1a" stroke-width="0.18">W2</text>
<line x1="390.4" y1="271.6" x2="390.4" y2="273.5" stroke="#777" stroke-width="0.9"/>
<text x="391.2" y="283.4" font-size="8.7" fill="#d42a3c" text-anchor="middle" stroke="#d42a3c" stroke-width="0.18">W3</text>
<line x1="416.1" y1="271.6" x2="416.1" y2="273.5" stroke="#777" stroke-width="0.9"/>
<text x="416.9" y="283.4" font-size="8.7" fill="#1a1a1a" text-anchor="middle" stroke="#1a1a1a" stroke-width="0.18">W4</text>
<line x1="441.9" y1="271.6" x2="441.9" y2="273.5" stroke="#777" stroke-width="0.9"/>
<text x="439.4" y="283.4" font-size="8.7" fill="#1a1a1a" text-anchor="middle" stroke="#1a1a1a" stroke-width="0.18">W5</text>
<text x="489.6" y="229.9" font-size="10.2" fill="#1a1a1a" text-anchor="middle" stroke="#1a1a1a" stroke-width="0.18">Cluster 6 (10)</text>
<path d="M450.9 266.8 L476.7 266.8 L502.4 237.4 L528.2 237.4" stroke="#2a2a2a" stroke-width="1.5" fill="none" stroke-linejoin="round"/>
<line x1="450.9" y1="271.6" x2="528.2" y2="271.6" stroke="#777" stroke-width="0.9"/>
<line x1="450.9" y1="271.6" x2="450.9" y2="273.5" stroke="#777" stroke-width="0.9"/>
<text x="453.8" y="283.4" font-size="8.7" fill="#1a1a1a" text-anchor="middle" stroke="#1a1a1a" stroke-width="0.18">W2</text>
<line x1="476.7" y1="271.6" x2="476.7" y2="273.5" stroke="#777" stroke-width="0.9"/>
<text x="477.5" y="283.4" font-size="8.7" fill="#d42a3c" text-anchor="middle" stroke="#d42a3c" stroke-width="0.18">W3</text>
<line x1="502.4" y1="271.6" x2="502.4" y2="273.5" stroke="#777" stroke-width="0.9"/>
<text x="503.2" y="283.4" font-size="8.7" fill="#1a1a1a" text-anchor="middle" stroke="#1a1a1a" stroke-width="0.18">W4</text>
<line x1="528.2" y1="271.6" x2="528.2" y2="273.5" stroke="#777" stroke-width="0.9"/>
<text x="525.7" y="283.4" font-size="8.7" fill="#1a1a1a" text-anchor="middle" stroke="#1a1a1a" stroke-width="0.18">W5</text>
<rect x="15.50" y="286.10" width="86.33" height="11.0" fill="#dc3e3e" stroke="#fff" stroke-width="0.7"/>
<rect x="15.50" y="297.10" width="86.33" height="11.0" fill="#dc3e3e" stroke="#fff" stroke-width="0.7"/>
<rect x="15.50" y="308.10" width="86.33" height="11.0" fill="#dc3e3e" stroke="#fff" stroke-width="0.7"/>
<rect x="15.50" y="319.10" width="86.33" height="11.0" fill="#e3e3e3" stroke="#fff" stroke-width="0.7"/>
<rect x="15.50" y="330.10" width="86.33" height="11.0" fill="#e3e3e3" stroke="#fff" stroke-width="0.7"/>
<rect x="15.50" y="341.10" width="86.33" height="11.0" fill="#e3e3e3" stroke="#fff" stroke-width="0.7"/>
<rect x="15.50" y="352.10" width="86.33" height="11.0" fill="#e3e3e3" stroke="#fff" stroke-width="0.7"/>
<rect x="15.50" y="363.10" width="86.33" height="11.0" fill="#e3e3e3" stroke="#fff" stroke-width="0.7"/>
<rect x="15.50" y="374.10" width="86.33" height="11.0" fill="#dc3e3e" stroke="#fff" stroke-width="0.7"/>
<rect x="15.50" y="385.10" width="86.33" height="11.0" fill="#dc3e3e" stroke="#fff" stroke-width="0.7"/>
<rect x="15.50" y="396.10" width="86.33" height="11.0" fill="#dc3e3e" stroke="#fff" stroke-width="0.7"/>
<rect x="15.50" y="407.10" width="86.33" height="11.0" fill="#dc3e3e" stroke="#fff" stroke-width="0.7"/>
<rect x="15.50" y="418.10" width="86.33" height="11.0" fill="#dc3e3e" stroke="#fff" stroke-width="0.7"/>
<rect x="15.50" y="429.10" width="86.33" height="11.0" fill="#dc3e3e" stroke="#fff" stroke-width="0.7"/>
<rect x="15.50" y="440.10" width="86.33" height="11.0" fill="#e3e3e3" stroke="#fff" stroke-width="0.7"/>
<rect x="101.83" y="286.10" width="86.33" height="11.0" fill="#e3e3e3" stroke="#fff" stroke-width="0.7"/>
<rect x="101.83" y="297.10" width="86.33" height="11.0" fill="#e3e3e3" stroke="#fff" stroke-width="0.7"/>
<rect x="101.83" y="308.10" width="86.33" height="11.0" fill="#dc3e3e" stroke="#fff" stroke-width="0.7"/>
<rect x="101.83" y="319.10" width="86.33" height="11.0" fill="#e3e3e3" stroke="#fff" stroke-width="0.7"/>
<rect x="101.83" y="330.10" width="86.33" height="11.0" fill="#e3e3e3" stroke="#fff" stroke-width="0.7"/>
<rect x="101.83" y="341.10" width="86.33" height="11.0" fill="#dc3e3e" stroke="#fff" stroke-width="0.7"/>
<rect x="101.83" y="352.10" width="86.33" height="11.0" fill="#e3e3e3" stroke="#fff" stroke-width="0.7"/>
<rect x="101.83" y="363.10" width="86.33" height="11.0" fill="#e3e3e3" stroke="#fff" stroke-width="0.7"/>
<rect x="101.83" y="374.10" width="86.33" height="11.0" fill="#dc3e3e" stroke="#fff" stroke-width="0.7"/>
<rect x="101.83" y="385.10" width="86.33" height="11.0" fill="#e3e3e3" stroke="#fff" stroke-width="0.7"/>
<rect x="101.83" y="396.10" width="86.33" height="11.0" fill="#e3e3e3" stroke="#fff" stroke-width="0.7"/>
<rect x="101.83" y="407.10" width="86.33" height="11.0" fill="#e3e3e3" stroke="#fff" stroke-width="0.7"/>
<rect x="101.83" y="418.10" width="86.33" height="11.0" fill="#e3e3e3" stroke="#fff" stroke-width="0.7"/>
<rect x="101.83" y="429.10" width="86.33" height="11.0" fill="#e3e3e3" stroke="#fff" stroke-width="0.7"/>
<rect x="101.83" y="440.10" width="86.33" height="11.0" fill="#e3e3e3" stroke="#fff" stroke-width="0.7"/>
<rect x="188.16" y="286.10" width="86.33" height="11.0" fill="#dc3e3e" stroke="#fff" stroke-width="0.7"/>
<rect x="188.16" y="297.10" width="86.33" height="11.0" fill="#dc3e3e" stroke="#fff" stroke-width="0.7"/>
<rect x="188.16" y="308.10" width="86.33" height="11.0" fill="#dc3e3e" stroke="#fff" stroke-width="0.7"/>
<rect x="188.16" y="319.10" width="86.33" height="11.0" fill="#dc3e3e" stroke="#fff" stroke-width="0.7"/>
<rect x="188.16" y="330.10" width="86.33" height="11.0" fill="#dc3e3e" stroke="#fff" stroke-width="0.7"/>
<rect x="188.16" y="341.10" width="86.33" height="11.0" fill="#e3e3e3" stroke="#fff" stroke-width="0.7"/>
<rect x="188.16" y="352.10" width="86.33" height="11.0" fill="#e3e3e3" stroke="#fff" stroke-width="0.7"/>
<rect x="188.16" y="363.10" width="86.33" height="11.0" fill="#e3e3e3" stroke="#fff" stroke-width="0.7"/>
<rect x="188.16" y="374.10" width="86.33" height="11.0" fill="#e3e3e3" stroke="#fff" stroke-width="0.7"/>
<rect x="188.16" y="385.10" width="86.33" height="11.0" fill="#dc3e3e" stroke="#fff" stroke-width="0.7"/>
<rect x="188.16" y="396.10" width="86.33" height="11.0" fill="#e3e3e3" stroke="#fff" stroke-width="0.7"/>
<rect x="188.16" y="407.10" width="86.33" height="11.0" fill="#e3e3e3" stroke="#fff" stroke-width="0.7"/>
<rect x="188.16" y="418.10" width="86.33" height="11.0" fill="#e3e3e3" stroke="#fff" stroke-width="0.7"/>
<rect x="188.16" y="429.10" width="86.33" height="11.0" fill="#e3e3e3" stroke="#fff" stroke-width="0.7"/>
<rect x="188.16" y="440.10" width="86.33" height="11.0" fill="#e3e3e3" stroke="#fff" stroke-width="0.7"/>
<rect x="274.49" y="286.10" width="86.33" height="11.0" fill="#e3e3e3" stroke="#fff" stroke-width="0.7"/>
<rect x="274.49" y="297.10" width="86.33" height="11.0" fill="#e3e3e3" stroke="#fff" stroke-width="0.7"/>
<rect x="274.49" y="308.10" width="86.33" height="11.0" fill="#e3e3e3" stroke="#fff" stroke-width="0.7"/>
<rect x="274.49" y="319.10" width="86.33" height="11.0" fill="#dc3e3e" stroke="#fff" stroke-width="0.7"/>
<rect x="274.49" y="330.10" width="86.33" height="11.0" fill="#e3e3e3" stroke="#fff" stroke-width="0.7"/>
<rect x="274.49" y="341.10" width="86.33" height="11.0" fill="#e3e3e3" stroke="#fff" stroke-width="0.7"/>
<rect x="274.49" y="352.10" width="86.33" height="11.0" fill="#e3e3e3" stroke="#fff" stroke-width="0.7"/>
<rect x="274.49" y="363.10" width="86.33" height="11.0" fill="#e3e3e3" stroke="#fff" stroke-width="0.7"/>
<rect x="274.49" y="374.10" width="86.33" height="11.0" fill="#e3e3e3" stroke="#fff" stroke-width="0.7"/>
<rect x="274.49" y="385.10" width="86.33" height="11.0" fill="#e3e3e3" stroke="#fff" stroke-width="0.7"/>
<rect x="274.49" y="396.10" width="86.33" height="11.0" fill="#e3e3e3" stroke="#fff" stroke-width="0.7"/>
<rect x="274.49" y="407.10" width="86.33" height="11.0" fill="#e3e3e3" stroke="#fff" stroke-width="0.7"/>
<rect x="274.49" y="418.10" width="86.33" height="11.0" fill="#e3e3e3" stroke="#fff" stroke-width="0.7"/>
<rect x="274.49" y="429.10" width="86.33" height="11.0" fill="#e3e3e3" stroke="#fff" stroke-width="0.7"/>
<rect x="274.49" y="440.10" width="86.33" height="11.0" fill="#dc3e3e" stroke="#fff" stroke-width="0.7"/>
<rect x="360.82" y="286.10" width="86.33" height="11.0" fill="#dc3e3e" stroke="#fff" stroke-width="0.7"/>
<rect x="360.82" y="297.10" width="86.33" height="11.0" fill="#dc3e3e" stroke="#fff" stroke-width="0.7"/>
<rect x="360.82" y="308.10" width="86.33" height="11.0" fill="#e3e3e3" stroke="#fff" stroke-width="0.7"/>
<rect x="360.82" y="319.10" width="86.33" height="11.0" fill="#e3e3e3" stroke="#fff" stroke-width="0.7"/>
<rect x="360.82" y="330.10" width="86.33" height="11.0" fill="#e3e3e3" stroke="#fff" stroke-width="0.7"/>
<rect x="360.82" y="341.10" width="86.33" height="11.0" fill="#e3e3e3" stroke="#fff" stroke-width="0.7"/>
<rect x="360.82" y="352.10" width="86.33" height="11.0" fill="#e3e3e3" stroke="#fff" stroke-width="0.7"/>
<rect x="360.82" y="363.10" width="86.33" height="11.0" fill="#e3e3e3" stroke="#fff" stroke-width="0.7"/>
<rect x="360.82" y="374.10" width="86.33" height="11.0" fill="#e3e3e3" stroke="#fff" stroke-width="0.7"/>
<rect x="360.82" y="385.10" width="86.33" height="11.0" fill="#e3e3e3" stroke="#fff" stroke-width="0.7"/>
<rect x="360.82" y="396.10" width="86.33" height="11.0" fill="#e3e3e3" stroke="#fff" stroke-width="0.7"/>
<rect x="360.82" y="407.10" width="86.33" height="11.0" fill="#e3e3e3" stroke="#fff" stroke-width="0.7"/>
<rect x="360.82" y="418.10" width="86.33" height="11.0" fill="#e3e3e3" stroke="#fff" stroke-width="0.7"/>
<rect x="360.82" y="429.10" width="86.33" height="11.0" fill="#e3e3e3" stroke="#fff" stroke-width="0.7"/>
<rect x="360.82" y="440.10" width="86.33" height="11.0" fill="#e3e3e3" stroke="#fff" stroke-width="0.7"/>
<rect x="447.15" y="286.10" width="86.33" height="11.0" fill="#dc3e3e" stroke="#fff" stroke-width="0.7"/>
<rect x="447.15" y="297.10" width="86.33" height="11.0" fill="#dc3e3e" stroke="#fff" stroke-width="0.7"/>
<rect x="447.15" y="308.10" width="86.33" height="11.0" fill="#dc3e3e" stroke="#fff" stroke-width="0.7"/>
<rect x="447.15" y="319.10" width="86.33" height="11.0" fill="#dc3e3e" stroke="#fff" stroke-width="0.7"/>
<rect x="447.15" y="330.10" width="86.33" height="11.0" fill="#dc3e3e" stroke="#fff" stroke-width="0.7"/>
<rect x="447.15" y="341.10" width="86.33" height="11.0" fill="#dc3e3e" stroke="#fff" stroke-width="0.7"/>
<rect x="447.15" y="352.10" width="86.33" height="11.0" fill="#dc3e3e" stroke="#fff" stroke-width="0.7"/>
<rect x="447.15" y="363.10" width="86.33" height="11.0" fill="#dc3e3e" stroke="#fff" stroke-width="0.7"/>
<rect x="447.15" y="374.10" width="86.33" height="11.0" fill="#e3e3e3" stroke="#fff" stroke-width="0.7"/>
<rect x="447.15" y="385.10" width="86.33" height="11.0" fill="#e3e3e3" stroke="#fff" stroke-width="0.7"/>
<rect x="447.15" y="396.10" width="86.33" height="11.0" fill="#dc3e3e" stroke="#fff" stroke-width="0.7"/>
<rect x="447.15" y="407.10" width="86.33" height="11.0" fill="#e3e3e3" stroke="#fff" stroke-width="0.7"/>
<rect x="447.15" y="418.10" width="86.33" height="11.0" fill="#e3e3e3" stroke="#fff" stroke-width="0.7"/>
<rect x="447.15" y="429.10" width="86.33" height="11.0" fill="#e3e3e3" stroke="#fff" stroke-width="0.7"/>
<rect x="447.15" y="440.10" width="86.33" height="11.0" fill="#e3e3e3" stroke="#fff" stroke-width="0.7"/>
<text x="537" y="295.4" font-size="8.8" fill="#2a2ad0" stroke="#2a2ad0" stroke-width="0.18">GnRH signalling pathway</text>
<text x="537" y="306.4" font-size="8.8" fill="#2a2ad0" stroke="#2a2ad0" stroke-width="0.18">Calcium signalling pathway</text>
<text x="537" y="317.4" font-size="8.8" fill="#2a2ad0" stroke="#2a2ad0" stroke-width="0.18">cGMP–PKG signalling pathway</text>
<text x="537" y="328.4" font-size="8.8" fill="#2a2ad0" stroke="#2a2ad0" stroke-width="0.18">Phosphatidylinositol signalling system</text>
<text x="537" y="339.4" font-size="8.8" fill="#1a1a1a" stroke="#1a1a1a" stroke-width="0.18">Gap junction</text>
<text x="537" y="350.4" font-size="8.8" fill="#1a1a1a" stroke="#1a1a1a" stroke-width="0.18">VEGF signalling pathway</text>
<text x="537" y="361.4" font-size="8.8" fill="#1a1a1a" stroke="#1a1a1a" stroke-width="0.18">Phospholipase D signalling pathway</text>
<text x="537" y="372.4" font-size="8.8" fill="#1a1a1a" stroke="#1a1a1a" stroke-width="0.18">MAPK signalling pathway</text>
<text x="537" y="383.4" font-size="8.8" fill="#1a1a1a" stroke="#1a1a1a" stroke-width="0.18">Wnt signalling pathway</text>
<text x="537" y="394.4" font-size="8.8" fill="#2a2ad0" stroke="#2a2ad0" stroke-width="0.18">cAMP signalling pathway</text>
<text x="537" y="405.4" font-size="8.8" fill="#1a1a1a" stroke="#1a1a1a" stroke-width="0.18">ErbB signalling pathway</text>
<text x="537" y="416.4" font-size="8.8" fill="#1a1a1a" stroke="#1a1a1a" stroke-width="0.18">HIF–1 signalling pathway</text>
<text x="537" y="427.4" font-size="8.8" fill="#1a1a1a" stroke="#1a1a1a" stroke-width="0.18">Arginine and proline metabolism</text>
<text x="537" y="438.4" font-size="8.8" fill="#1a1a1a" stroke="#1a1a1a" stroke-width="0.18">Arginine biosynthesis</text>
<text x="537" y="449.4" font-size="8.8" fill="#1a1a1a" stroke="#1a1a1a" stroke-width="0.18">Inositol phosphate metabolism</text>
<rect x="568" y="255.2" width="2.6" height="9.3" fill="#ececec"/><rect x="549.2" y="255.2" width="19" height="9.3" fill="#dc4048"/>
<text x="558.6" y="263.8" font-size="8.8" fill="#1a0808" text-anchor="middle" stroke="#1a0808" stroke-width="0.18">On</text>
<text x="572.8" y="263.7" font-size="8.8" fill="#111" stroke="#111" stroke-width="0.18">Off</text>
<text x="-0.3" y="472.3" font-size="14.5" font-weight="bold" fill="#000">c</text>
<rect x="31.90" y="495.20" width="17.02" height="9.43" fill="#3344dd"/>
<rect x="31.90" y="504.32" width="17.02" height="9.43" fill="#9aa0ee"/>
<rect x="31.90" y="513.45" width="17.02" height="9.43" fill="#e87070"/>
<rect x="31.90" y="522.58" width="17.02" height="9.43" fill="#e46060"/>
<rect x="48.62" y="495.20" width="17.02" height="9.43" fill="#3d4de0"/>
<rect x="48.62" y="504.32" width="17.02" height="9.43" fill="#8890ee"/>
<rect x="48.62" y="513.45" width="17.02" height="9.43" fill="#eb8c8c"/>
<rect x="48.62" y="522.58" width="17.02" height="9.43" fill="#e04848"/>
<rect x="65.33" y="495.20" width="17.02" height="9.43" fill="#2233e0"/>
<rect x="65.33" y="504.32" width="17.02" height="9.43" fill="#c0c4f4"/>
<rect x="65.33" y="513.45" width="17.02" height="9.43" fill="#f0b0b0"/>
<rect x="65.33" y="522.58" width="17.02" height="9.43" fill="#de4040"/>
<rect x="82.05" y="495.20" width="17.02" height="9.43" fill="#2233e0"/>
<rect x="82.05" y="504.32" width="17.02" height="9.43" fill="#b8bcf2"/>
<rect x="82.05" y="513.45" width="17.02" height="9.43" fill="#e87272"/>
<rect x="82.05" y="522.58" width="17.02" height="9.43" fill="#e87878"/>
<rect x="98.76" y="495.20" width="17.02" height="9.43" fill="#2a3ae0"/>
<rect x="98.76" y="504.32" width="17.02" height="9.43" fill="#b8bcf2"/>
<rect x="98.76" y="513.45" width="17.02" height="9.43" fill="#e05050"/>
<rect x="98.76" y="522.58" width="17.02" height="9.43" fill="#f09898"/>
<rect x="115.48" y="495.20" width="17.02" height="9.43" fill="#1111ee"/>
<rect x="115.48" y="504.32" width="17.02" height="9.43" fill="#f8f8fc"/>
<rect x="115.48" y="513.45" width="17.02" height="9.43" fill="#e46060"/>
<rect x="115.48" y="522.58" width="17.02" height="9.43" fill="#f0a0a0"/>
<rect x="132.19" y="495.20" width="17.02" height="9.43" fill="#1111ee"/>
<rect x="132.19" y="504.32" width="17.02" height="9.43" fill="#f8f8fc"/>
<rect x="132.19" y="513.45" width="17.02" height="9.43" fill="#ec9090"/>
<rect x="132.19" y="522.58" width="17.02" height="9.43" fill="#ea8080"/>
<rect x="148.91" y="495.20" width="17.02" height="9.43" fill="#3344dd"/>
<rect x="148.91" y="504.32" width="17.02" height="9.43" fill="#b0b4f0"/>
<rect x="148.91" y="513.45" width="17.02" height="9.43" fill="#dd3030"/>
<rect x="148.91" y="522.58" width="17.02" height="9.43" fill="#f4c0c0"/>
<rect x="165.62" y="495.20" width="17.02" height="9.43" fill="#4455e0"/>
<rect x="165.62" y="504.32" width="17.02" height="9.43" fill="#a8acf0"/>
<rect x="165.62" y="513.45" width="17.02" height="9.43" fill="#dd3030"/>
<rect x="165.62" y="522.58" width="17.02" height="9.43" fill="#f4c4c4"/>
<rect x="182.34" y="495.20" width="17.02" height="9.43" fill="#dd2828"/>
<rect x="182.34" y="504.32" width="17.02" height="9.43" fill="#f6d0d0"/>
<rect x="182.34" y="513.45" width="17.02" height="9.43" fill="#5566e8"/>
<rect x="182.34" y="522.58" width="17.02" height="9.43" fill="#8890ee"/>
<rect x="199.06" y="495.20" width="17.02" height="9.43" fill="#dd2828"/>
<rect x="199.06" y="504.32" width="17.02" height="9.43" fill="#f4c8c8"/>
<rect x="199.06" y="513.45" width="17.02" height="9.43" fill="#3a4ae4"/>
<rect x="199.06" y="522.58" width="17.02" height="9.43" fill="#9098f0"/>
<rect x="215.77" y="495.20" width="17.02" height="9.43" fill="#dd2828"/>
<rect x="215.77" y="504.32" width="17.02" height="9.43" fill="#f6d0d0"/>
<rect x="215.77" y="513.45" width="17.02" height="9.43" fill="#4a5ae6"/>
<rect x="215.77" y="522.58" width="17.02" height="9.43" fill="#9098f0"/>
<rect x="232.49" y="495.20" width="17.02" height="9.43" fill="#e04040"/>
<rect x="232.49" y="504.32" width="17.02" height="9.43" fill="#eca4a4"/>
<rect x="232.49" y="513.45" width="17.02" height="9.43" fill="#5060e8"/>
<rect x="232.49" y="522.58" width="17.02" height="9.43" fill="#7078ec"/>
<rect x="249.20" y="495.20" width="17.02" height="9.43" fill="#e04040"/>
<rect x="249.20" y="504.32" width="17.02" height="9.43" fill="#f0b0b0"/>
<rect x="249.20" y="513.45" width="17.02" height="9.43" fill="#5060e8"/>
<rect x="249.20" y="522.58" width="17.02" height="9.43" fill="#7880ec"/>
<rect x="265.92" y="495.20" width="17.02" height="9.43" fill="#e03838"/>
<rect x="265.92" y="504.32" width="17.02" height="9.43" fill="#f0b8b8"/>
<rect x="265.92" y="513.45" width="17.02" height="9.43" fill="#7078ec"/>
<rect x="265.92" y="522.58" width="17.02" height="9.43" fill="#5a68e8"/>
<rect x="282.63" y="495.20" width="17.02" height="9.43" fill="#dd2020"/>
<rect x="282.63" y="504.32" width="17.02" height="9.43" fill="#fafafa"/>
<rect x="282.63" y="513.45" width="17.02" height="9.43" fill="#5565e8"/>
<rect x="282.63" y="522.58" width="17.02" height="9.43" fill="#a0a8f0"/>
<rect x="299.35" y="495.20" width="17.02" height="9.43" fill="#dd2020"/>
<rect x="299.35" y="504.32" width="17.02" height="9.43" fill="#eeeefa"/>
<rect x="299.35" y="513.45" width="17.02" height="9.43" fill="#4a5ae6"/>
<rect x="299.35" y="522.58" width="17.02" height="9.43" fill="#c8ccf4"/>
<rect x="316.07" y="495.20" width="17.02" height="9.43" fill="#8088ee"/>
<rect x="316.07" y="504.32" width="17.02" height="9.43" fill="#eeaaaa"/>
<rect x="316.07" y="513.45" width="17.02" height="9.43" fill="#dd3030"/>
<rect x="316.07" y="522.58" width="17.02" height="9.43" fill="#5060e8"/>
<rect x="332.78" y="495.20" width="17.02" height="9.43" fill="#4050e6"/>
<rect x="332.78" y="504.32" width="17.02" height="9.43" fill="#e46868"/>
<rect x="332.78" y="513.45" width="17.02" height="9.43" fill="#8890f0"/>
<rect x="332.78" y="522.58" width="17.02" height="9.43" fill="#e46868"/>
<rect x="349.50" y="495.20" width="17.02" height="9.43" fill="#1a2aee"/>
<rect x="349.50" y="504.32" width="17.02" height="9.43" fill="#d4d6f6"/>
<rect x="349.50" y="513.45" width="17.02" height="9.43" fill="#e87070"/>
<rect x="349.50" y="522.58" width="17.02" height="9.43" fill="#e87070"/>
<rect x="366.21" y="495.20" width="17.02" height="9.43" fill="#1a2aee"/>
<rect x="366.21" y="504.32" width="17.02" height="9.43" fill="#d4d6f6"/>
<rect x="366.21" y="513.45" width="17.02" height="9.43" fill="#e87070"/>
<rect x="366.21" y="522.58" width="17.02" height="9.43" fill="#e87070"/>
<rect x="382.93" y="495.20" width="17.02" height="9.43" fill="#1020f0"/>
<rect x="382.93" y="504.32" width="17.02" height="9.43" fill="#f4f4fa"/>
<rect x="382.93" y="513.45" width="17.02" height="9.43" fill="#e87474"/>
<rect x="382.93" y="522.58" width="17.02" height="9.43" fill="#e87474"/>
<rect x="399.64" y="495.20" width="17.02" height="9.43" fill="#1020f0"/>
<rect x="399.64" y="504.32" width="17.02" height="9.43" fill="#f4f4fa"/>
<rect x="399.64" y="513.45" width="17.02" height="9.43" fill="#e46464"/>
<rect x="399.64" y="522.58" width="17.02" height="9.43" fill="#f0a0a0"/>
<rect x="416.36" y="495.20" width="17.02" height="9.43" fill="#1020f0"/>
<rect x="416.36" y="504.32" width="17.02" height="9.43" fill="#f4f4fa"/>
<rect x="416.36" y="513.45" width="17.02" height="9.43" fill="#ec8888"/>
<rect x="416.36" y="522.58" width="17.02" height="9.43" fill="#e87878"/>
<rect x="433.07" y="495.20" width="17.02" height="9.43" fill="#1828ee"/>
<rect x="433.07" y="504.32" width="17.02" height="9.43" fill="#f8f4f6"/>
<rect x="433.07" y="513.45" width="17.02" height="9.43" fill="#f4c8c8"/>
<rect x="433.07" y="522.58" width="17.02" height="9.43" fill="#e04848"/>
<rect x="449.79" y="495.20" width="17.02" height="9.43" fill="#7078ec"/>
<rect x="449.79" y="504.32" width="17.02" height="9.43" fill="#6a74ec"/>
<rect x="449.79" y="513.45" width="17.02" height="9.43" fill="#dd2828"/>
<rect x="449.79" y="522.58" width="17.02" height="9.43" fill="#f4c8c8"/>
<rect x="466.51" y="495.20" width="17.02" height="9.43" fill="#dd1010"/>
<rect x="466.51" y="504.32" width="17.02" height="9.43" fill="#b0b4f2"/>
<rect x="466.51" y="513.45" width="17.02" height="9.43" fill="#9098f0"/>
<rect x="466.51" y="522.58" width="17.02" height="9.43" fill="#b8bcf4"/>
<rect x="483.22" y="495.20" width="17.02" height="9.43" fill="#dd1010"/>
<rect x="483.22" y="504.32" width="17.02" height="9.43" fill="#d0d4f6"/>
<rect x="483.22" y="513.45" width="17.02" height="9.43" fill="#9aa0f0"/>
<rect x="483.22" y="522.58" width="17.02" height="9.43" fill="#9098f0"/>
<rect x="499.94" y="495.20" width="17.02" height="9.43" fill="#e05050"/>
<rect x="499.94" y="504.32" width="17.02" height="9.43" fill="#ec8888"/>
<rect x="499.94" y="513.45" width="17.02" height="9.43" fill="#6470ec"/>
<rect x="499.94" y="522.58" width="17.02" height="9.43" fill="#6470ec"/>
<rect x="516.65" y="495.20" width="17.02" height="9.43" fill="#ec8c8c"/>
<rect x="516.65" y="504.32" width="17.02" height="9.43" fill="#e87878"/>
<rect x="516.65" y="513.45" width="17.02" height="9.43" fill="#1820ee"/>
<rect x="516.65" y="522.58" width="17.02" height="9.43" fill="#e4e6fa"/>
<rect x="533.37" y="495.20" width="17.02" height="9.43" fill="#e04040"/>
<rect x="533.37" y="504.32" width="17.02" height="9.43" fill="#f0b0b0"/>
<rect x="533.37" y="513.45" width="17.02" height="9.43" fill="#6470ec"/>
<rect x="533.37" y="522.58" width="17.02" height="9.43" fill="#8890ee"/>
<rect x="550.08" y="495.20" width="17.02" height="9.43" fill="#e04040"/>
<rect x="550.08" y="504.32" width="17.02" height="9.43" fill="#f6e4e4"/>
<rect x="550.08" y="513.45" width="17.02" height="9.43" fill="#ffffff"/>
<rect x="550.08" y="522.58" width="17.02" height="9.43" fill="#2030e8"/>
<line x1="316.1" y1="495.2" x2="316.1" y2="531.7" stroke="#444" stroke-width="0.7" stroke-dasharray="1.2,1"/>
<text x="28.3" y="501.6" font-size="8.8" fill="#1a1a1a" text-anchor="end" stroke="#1a1a1a" stroke-width="0.18">W2</text>
<text x="28.3" y="511.5" font-size="8.8" fill="#1a1a1a" text-anchor="end" stroke="#1a1a1a" stroke-width="0.18">W3</text>
<text x="28.3" y="521.4" font-size="8.8" fill="#1a1a1a" text-anchor="end" stroke="#1a1a1a" stroke-width="0.18">W4</text>
<text x="28.3" y="531.3" font-size="8.8" fill="#1a1a1a" text-anchor="end" stroke="#1a1a1a" stroke-width="0.18">W5</text>
<polygon points="42.26,536.00 42.85,537.59 44.54,537.66 43.21,538.71 43.67,540.34 42.26,539.40 40.85,540.34 41.31,538.71 39.98,537.66 41.67,537.59" fill="#2a8a55"/>
<text transform="translate(33.0,547.0) rotate(45)" font-size="8.6" fill="#1a1a1a" stroke="#1a1a1a" stroke-width="0.18">CDH6</text>
<polygon points="58.97,536.00 59.56,537.59 61.26,537.66 59.92,538.71 60.38,540.34 58.97,539.40 57.56,540.34 58.02,538.71 56.69,537.66 58.39,537.59" fill="#2a8a55"/>
<text transform="translate(49.7,547.0) rotate(45)" font-size="8.6" fill="#1a1a1a" stroke="#1a1a1a" stroke-width="0.18">KRAS</text>
<polygon points="75.69,536.00 76.28,537.59 77.97,537.66 76.64,538.71 77.10,540.34 75.69,539.40 74.28,540.34 74.74,538.71 73.41,537.66 75.10,537.59" fill="#2a8a55"/>
<text transform="translate(66.4,547.0) rotate(45)" font-size="8.6" fill="#1a1a1a" stroke="#1a1a1a" stroke-width="0.18">PLAUR</text>
<polygon points="92.40,536.00 92.99,537.59 94.69,537.66 93.36,538.71 93.82,540.34 92.40,539.40 90.99,540.34 91.45,538.71 90.12,537.66 91.82,537.59" fill="#2a8a55"/>
<text transform="translate(83.1,547.0) rotate(45)" font-size="8.6" fill="#1a1a1a" stroke="#1a1a1a" stroke-width="0.18">MDM2</text>
<polygon points="109.12,536.00 109.71,537.59 111.40,537.66 110.07,538.71 110.53,540.34 109.12,539.40 107.71,540.34 108.17,538.71 106.84,537.66 108.53,537.59" fill="#2a8a55"/>
<text transform="translate(99.8,547.0) rotate(45)" font-size="8.6" fill="#1a1a1a" stroke="#1a1a1a" stroke-width="0.18">FN1</text>
<polygon points="125.84,536.00 126.42,537.59 128.12,537.66 126.79,538.71 127.25,540.34 125.84,539.40 124.43,540.34 124.88,538.71 123.55,537.66 125.25,537.59" fill="#2a8a55"/>
<text transform="translate(116.5,547.0) rotate(45)" font-size="8.6" fill="#1a1a1a" stroke="#1a1a1a" stroke-width="0.18">HPRT1</text>
<polygon points="142.55,536.00 143.14,537.59 144.83,537.66 143.50,538.71 143.96,540.34 142.55,539.40 141.14,540.34 141.60,538.71 140.27,537.66 141.96,537.59" fill="#2a8a55"/>
<text transform="translate(133.3,547.0) rotate(45)" font-size="8.6" fill="#1a1a1a" stroke="#1a1a1a" stroke-width="0.18">CDH1</text>
<polygon points="159.27,536.00 159.85,537.59 161.55,537.66 160.22,538.71 160.68,540.34 159.27,539.40 157.86,540.34 158.32,538.71 156.98,537.66 158.68,537.59" fill="#2a8a55"/>
<text transform="translate(150.0,547.0) rotate(45)" font-size="8.6" fill="#1a1a1a" stroke="#1a1a1a" stroke-width="0.18">ACTB</text>
<polygon points="175.98,536.00 176.57,537.59 178.27,537.66 176.93,538.71 177.39,540.34 175.98,539.40 174.57,540.34 175.03,538.71 173.70,537.66 175.40,537.59" fill="#2a8a55"/>
<text transform="translate(166.7,547.0) rotate(45)" font-size="8.6" fill="#1a1a1a" stroke="#1a1a1a" stroke-width="0.18">ETV4</text>
<text transform="translate(183.4,547.0) rotate(45)" font-size="8.6" fill="#1a1a1a" stroke="#1a1a1a" stroke-width="0.18">NR4A3</text>
<text transform="translate(200.1,547.0) rotate(45)" font-size="8.6" fill="#1a1a1a" stroke="#1a1a1a" stroke-width="0.18">FGFR4</text>
<text transform="translate(216.8,547.0) rotate(45)" font-size="8.6" fill="#1a1a1a" stroke="#1a1a1a" stroke-width="0.18">ITGB3</text>
<polygon points="242.85,536.00 243.43,537.59 245.13,537.66 243.80,538.71 244.26,540.34 242.85,539.40 241.43,540.34 241.89,538.71 240.56,537.66 242.26,537.59" fill="#2a8a55"/>
<text transform="translate(233.5,547.0) rotate(45)" font-size="8.6" fill="#e03a50" stroke="#e03a50" stroke-width="0.18">IGF1</text>
<text transform="translate(250.3,547.0) rotate(45)" font-size="8.6" fill="#1a1a1a" stroke="#1a1a1a" stroke-width="0.18">CD82</text>
<text transform="translate(267.0,547.0) rotate(45)" font-size="8.6" fill="#1a1a1a" stroke="#1a1a1a" stroke-width="0.18">CDH11</text>
<polygon points="292.99,536.00 293.58,537.59 295.27,537.66 293.94,538.71 294.40,540.34 292.99,539.40 291.58,540.34 292.04,538.71 290.71,537.66 292.40,537.59" fill="#2a8a55"/>
<text transform="translate(283.7,547.0) rotate(45)" font-size="8.6" fill="#e03a50" stroke="#e03a50" stroke-width="0.18">FLT4</text>
<text transform="translate(300.4,547.0) rotate(45)" font-size="8.6" fill="#1a1a1a" stroke="#1a1a1a" stroke-width="0.18">MMP2</text>
<text transform="translate(317.1,547.0) rotate(45)" font-size="8.6" fill="#1a1a1a" stroke="#1a1a1a" stroke-width="0.18">SRC</text>
<polygon points="343.14,536.00 343.73,537.59 345.42,537.66 344.09,538.71 344.55,540.34 343.14,539.40 341.73,540.34 342.19,538.71 340.86,537.66 342.55,537.59" fill="#2a8a55"/>
<text transform="translate(333.8,547.0) rotate(45)" font-size="8.6" fill="#1a1a1a" stroke="#1a1a1a" stroke-width="0.18">TIMP3</text>
<polygon points="359.85,536.00 360.44,537.59 362.14,537.66 360.81,538.71 361.27,540.34 359.85,539.40 358.44,540.34 358.90,538.71 357.57,537.66 359.27,537.59" fill="#2a8a55"/>
<text transform="translate(350.6,547.0) rotate(45)" font-size="8.6" fill="#1a1a1a" stroke="#1a1a1a" stroke-width="0.18">CD4</text>
<polygon points="376.57,536.00 377.16,537.59 378.85,537.66 377.52,538.71 377.98,540.34 376.57,539.40 375.16,540.34 375.62,538.71 374.29,537.66 375.98,537.59" fill="#2a8a55"/>
<text transform="translate(367.3,547.0) rotate(45)" font-size="8.6" fill="#1a1a1a" stroke="#1a1a1a" stroke-width="0.18">NF2</text>
<polygon points="393.29,536.00 393.87,537.59 395.57,537.66 394.24,538.71 394.70,540.34 393.29,539.40 391.88,540.34 392.33,538.71 391.00,537.66 392.70,537.59" fill="#2a8a55"/>
<text transform="translate(384.0,547.0) rotate(45)" font-size="8.6" fill="#1a1a1a" stroke="#1a1a1a" stroke-width="0.18">HGF</text>
<polygon points="410.00,536.00 410.59,537.59 412.28,537.66 410.95,538.71 411.41,540.34 410.00,539.40 408.59,540.34 409.05,538.71 407.72,537.66 409.41,537.59" fill="#2a8a55"/>
<text transform="translate(400.7,547.0) rotate(45)" font-size="8.6" fill="#1a1a1a" stroke="#1a1a1a" stroke-width="0.18">MTA1</text>
<polygon points="426.72,536.00 427.30,537.59 429.00,537.66 427.67,538.71 428.13,540.34 426.72,539.40 425.31,540.34 425.77,538.71 424.43,537.66 426.13,537.59" fill="#2a8a55"/>
<text transform="translate(417.4,547.0) rotate(45)" font-size="8.6" fill="#1a1a1a" stroke="#1a1a1a" stroke-width="0.18">CTBP1</text>
<polygon points="443.43,536.00 444.02,537.59 445.72,537.66 444.38,538.71 444.84,540.34 443.43,539.40 442.02,540.34 442.48,538.71 441.15,537.66 442.85,537.59" fill="#2a8a55"/>
<text transform="translate(434.1,547.0) rotate(45)" font-size="8.6" fill="#1a1a1a" stroke="#1a1a1a" stroke-width="0.18">RB1</text>
<polygon points="460.15,536.00 460.74,537.59 462.43,537.66 461.10,538.71 461.56,540.34 460.15,539.40 458.74,540.34 459.20,538.71 457.87,537.66 459.56,537.59" fill="#2a8a55"/>
<text transform="translate(450.8,547.0) rotate(45)" font-size="8.6" fill="#1a1a1a" stroke="#1a1a1a" stroke-width="0.18">MET</text>
<text transform="translate(467.6,547.0) rotate(45)" font-size="8.6" fill="#1a1a1a" stroke="#1a1a1a" stroke-width="0.18">TP53</text>
<text transform="translate(484.3,547.0) rotate(45)" font-size="8.6" fill="#1a1a1a" stroke="#1a1a1a" stroke-width="0.18">ITGA7</text>
<polygon points="510.30,536.00 510.88,537.59 512.58,537.66 511.25,538.71 511.71,540.34 510.30,539.40 508.88,540.34 509.34,538.71 508.01,537.66 509.71,537.59" fill="#2a8a55"/>
<text transform="translate(501.0,547.0) rotate(45)" font-size="8.6" fill="#e03a50" stroke="#e03a50" stroke-width="0.18">TIMP4</text>
<text transform="translate(517.7,547.0) rotate(45)" font-size="8.6" fill="#1a1a1a" stroke="#1a1a1a" stroke-width="0.18">MMP13</text>
<text transform="translate(534.4,547.0) rotate(45)" font-size="8.6" fill="#1a1a1a" stroke="#1a1a1a" stroke-width="0.18">MGAT5</text>
<text transform="translate(551.1,547.0) rotate(45)" font-size="8.6" fill="#1a1a1a" stroke="#1a1a1a" stroke-width="0.18">SSTR2</text>
<text x="489.6" y="471.5" font-size="7.5" fill="#222" stroke="#222" stroke-width="0.18">Gene expressions (<tspan font-style="italic">z</tspan>-score)</text>
<rect x="504" y="475.2" width="58.7" height="5.9" fill="url(#cb)" stroke="#333" stroke-width="0.5"/>
<line x1="513.8" y1="481.1" x2="513.8" y2="483.2" stroke="#333" stroke-width="0.6"/>
<line x1="523.6" y1="481.1" x2="523.6" y2="483.2" stroke="#333" stroke-width="0.6"/>
<line x1="533.4" y1="481.1" x2="533.4" y2="483.2" stroke="#333" stroke-width="0.6"/>
<line x1="543.0" y1="481.1" x2="543.0" y2="483.2" stroke="#333" stroke-width="0.6"/>
<line x1="552.6" y1="481.1" x2="552.6" y2="483.2" stroke="#333" stroke-width="0.6"/>
<text x="513.8" y="491" font-size="7.6" fill="#222" text-anchor="middle" stroke="#222" stroke-width="0.18">−1</text>
<text x="533.4" y="491" font-size="7.6" fill="#222" text-anchor="middle" stroke="#222" stroke-width="0.18">0</text>
<text x="552.6" y="491" font-size="7.6" fill="#222" text-anchor="middle" stroke="#222" stroke-width="0.18">1</text>
</svg></body></html>
